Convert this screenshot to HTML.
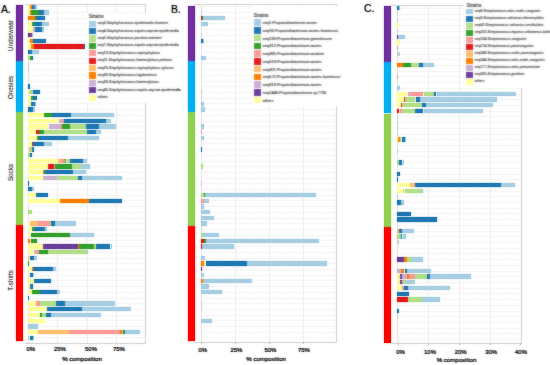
<!DOCTYPE html>
<html><head><meta charset="utf-8"><style>
html,body{margin:0;padding:0;background:#fff;}
body{width:550px;height:365px;position:relative;overflow:hidden;font-family:"Liberation Sans", sans-serif;}
div{position:absolute;}
.t{position:absolute;white-space:nowrap;line-height:1;color:#404040;}
.ax{font-size:5.9px;text-align:center;color:#222;-webkit-text-stroke:0.22px #333;}
.tt{font-size:6.1px;}
.lab{color:#262626;}
.cat{width:80px;text-align:center;font-size:6.3px;transform:rotate(-90deg);color:#3a3a3a;height:9px;line-height:9px;}
.ltitle{font-size:4.8px;color:#222;-webkit-text-stroke:0.12px #333;}
.li{font-style:italic;color:#222;line-height:5px;-webkit-text-stroke:0.1px #333;}
.liA{font-size:3.82px;} .liB{font-size:4.07px;} .liC{font-size:3.63px;-webkit-text-stroke:0.1px #333;color:#2a2a2a;}
#wrap,#wrap2{position:absolute;left:0;top:0;width:550px;height:365px;}
#wrap2{filter:blur(0.8px);opacity:0.5;}
</style></head><body><div id="wrap">
<div style="left:27.90px;top:6.35px;width:117.30px;height:0.60px;background:#f6f6f6;"></div>
<div style="left:27.90px;top:12.06px;width:117.30px;height:0.60px;background:#f6f6f6;"></div>
<div style="left:27.90px;top:17.77px;width:117.30px;height:0.60px;background:#f6f6f6;"></div>
<div style="left:27.90px;top:23.48px;width:117.30px;height:0.60px;background:#f6f6f6;"></div>
<div style="left:27.90px;top:29.19px;width:117.30px;height:0.60px;background:#f6f6f6;"></div>
<div style="left:27.90px;top:34.90px;width:117.30px;height:0.60px;background:#f6f6f6;"></div>
<div style="left:27.90px;top:40.61px;width:117.30px;height:0.60px;background:#f6f6f6;"></div>
<div style="left:27.90px;top:46.32px;width:117.30px;height:0.60px;background:#f6f6f6;"></div>
<div style="left:27.90px;top:52.03px;width:117.30px;height:0.60px;background:#f6f6f6;"></div>
<div style="left:27.90px;top:57.74px;width:117.30px;height:0.60px;background:#f6f6f6;"></div>
<div style="left:27.90px;top:63.44px;width:117.30px;height:0.60px;background:#f6f6f6;"></div>
<div style="left:27.90px;top:69.15px;width:117.30px;height:0.60px;background:#f6f6f6;"></div>
<div style="left:27.90px;top:74.86px;width:117.30px;height:0.60px;background:#f6f6f6;"></div>
<div style="left:27.90px;top:80.57px;width:117.30px;height:0.60px;background:#f6f6f6;"></div>
<div style="left:27.90px;top:86.28px;width:117.30px;height:0.60px;background:#f6f6f6;"></div>
<div style="left:27.90px;top:91.99px;width:117.30px;height:0.60px;background:#f6f6f6;"></div>
<div style="left:27.90px;top:97.70px;width:117.30px;height:0.60px;background:#f6f6f6;"></div>
<div style="left:27.90px;top:103.41px;width:117.30px;height:0.60px;background:#f6f6f6;"></div>
<div style="left:27.90px;top:109.12px;width:117.30px;height:0.60px;background:#f6f6f6;"></div>
<div style="left:27.90px;top:114.83px;width:117.30px;height:0.60px;background:#f6f6f6;"></div>
<div style="left:27.90px;top:120.53px;width:117.30px;height:0.60px;background:#f6f6f6;"></div>
<div style="left:27.90px;top:126.24px;width:117.30px;height:0.60px;background:#f6f6f6;"></div>
<div style="left:27.90px;top:131.95px;width:117.30px;height:0.60px;background:#f6f6f6;"></div>
<div style="left:27.90px;top:137.66px;width:117.30px;height:0.60px;background:#f6f6f6;"></div>
<div style="left:27.90px;top:143.37px;width:117.30px;height:0.60px;background:#f6f6f6;"></div>
<div style="left:27.90px;top:149.08px;width:117.30px;height:0.60px;background:#f6f6f6;"></div>
<div style="left:27.90px;top:154.79px;width:117.30px;height:0.60px;background:#f6f6f6;"></div>
<div style="left:27.90px;top:160.50px;width:117.30px;height:0.60px;background:#f6f6f6;"></div>
<div style="left:27.90px;top:166.21px;width:117.30px;height:0.60px;background:#f6f6f6;"></div>
<div style="left:27.90px;top:171.92px;width:117.30px;height:0.60px;background:#f6f6f6;"></div>
<div style="left:27.90px;top:177.62px;width:117.30px;height:0.60px;background:#f6f6f6;"></div>
<div style="left:27.90px;top:183.33px;width:117.30px;height:0.60px;background:#f6f6f6;"></div>
<div style="left:27.90px;top:189.04px;width:117.30px;height:0.60px;background:#f6f6f6;"></div>
<div style="left:27.90px;top:194.75px;width:117.30px;height:0.60px;background:#f6f6f6;"></div>
<div style="left:27.90px;top:200.46px;width:117.30px;height:0.60px;background:#f6f6f6;"></div>
<div style="left:27.90px;top:206.17px;width:117.30px;height:0.60px;background:#f6f6f6;"></div>
<div style="left:27.90px;top:211.88px;width:117.30px;height:0.60px;background:#f6f6f6;"></div>
<div style="left:27.90px;top:217.59px;width:117.30px;height:0.60px;background:#f6f6f6;"></div>
<div style="left:27.90px;top:223.30px;width:117.30px;height:0.60px;background:#f6f6f6;"></div>
<div style="left:27.90px;top:229.01px;width:117.30px;height:0.60px;background:#f6f6f6;"></div>
<div style="left:27.90px;top:234.71px;width:117.30px;height:0.60px;background:#f6f6f6;"></div>
<div style="left:27.90px;top:240.42px;width:117.30px;height:0.60px;background:#f6f6f6;"></div>
<div style="left:27.90px;top:246.13px;width:117.30px;height:0.60px;background:#f6f6f6;"></div>
<div style="left:27.90px;top:251.84px;width:117.30px;height:0.60px;background:#f6f6f6;"></div>
<div style="left:27.90px;top:257.55px;width:117.30px;height:0.60px;background:#f6f6f6;"></div>
<div style="left:27.90px;top:263.26px;width:117.30px;height:0.60px;background:#f6f6f6;"></div>
<div style="left:27.90px;top:268.97px;width:117.30px;height:0.60px;background:#f6f6f6;"></div>
<div style="left:27.90px;top:274.68px;width:117.30px;height:0.60px;background:#f6f6f6;"></div>
<div style="left:27.90px;top:280.39px;width:117.30px;height:0.60px;background:#f6f6f6;"></div>
<div style="left:27.90px;top:286.10px;width:117.30px;height:0.60px;background:#f6f6f6;"></div>
<div style="left:27.90px;top:291.80px;width:117.30px;height:0.60px;background:#f6f6f6;"></div>
<div style="left:27.90px;top:297.51px;width:117.30px;height:0.60px;background:#f6f6f6;"></div>
<div style="left:27.90px;top:303.22px;width:117.30px;height:0.60px;background:#f6f6f6;"></div>
<div style="left:27.90px;top:308.93px;width:117.30px;height:0.60px;background:#f6f6f6;"></div>
<div style="left:27.90px;top:314.64px;width:117.30px;height:0.60px;background:#f6f6f6;"></div>
<div style="left:27.90px;top:320.35px;width:117.30px;height:0.60px;background:#f6f6f6;"></div>
<div style="left:27.90px;top:326.06px;width:117.30px;height:0.60px;background:#f6f6f6;"></div>
<div style="left:27.90px;top:331.77px;width:117.30px;height:0.60px;background:#f6f6f6;"></div>
<div style="left:27.90px;top:337.48px;width:117.30px;height:0.60px;background:#f6f6f6;"></div>
<div style="left:42.60px;top:3.50px;width:0.60px;height:339.30px;background:#fbfbfb;"></div>
<div style="left:57.30px;top:3.50px;width:0.60px;height:339.30px;background:#f0f0f0;"></div>
<div style="left:72.00px;top:3.50px;width:0.60px;height:339.30px;background:#fbfbfb;"></div>
<div style="left:86.70px;top:3.50px;width:0.60px;height:339.30px;background:#f0f0f0;"></div>
<div style="left:101.40px;top:3.50px;width:0.60px;height:339.30px;background:#fbfbfb;"></div>
<div style="left:116.10px;top:3.50px;width:0.60px;height:339.30px;background:#f0f0f0;"></div>
<div style="left:130.80px;top:3.50px;width:0.60px;height:339.30px;background:#fbfbfb;"></div>
<div style="left:24.50px;top:3.50px;width:120.70px;height:0.80px;background:#d9d9d9;"></div>
<div style="left:145.20px;top:3.50px;width:0.80px;height:339.30px;background:#d9d9d9;"></div>
<div style="left:24.50px;top:342.80px;width:121.50px;height:0.80px;background:#d9d9d9;"></div>
<div style="left:27.80px;top:3.50px;width:0.60px;height:339.30px;background:#e8e8e8;"></div>
<div style="left:27.90px;top:342.80px;width:0.70px;height:1.60px;background:#bfbfbf;"></div>
<div style="left:57.30px;top:342.80px;width:0.70px;height:1.60px;background:#bfbfbf;"></div>
<div style="left:86.70px;top:342.80px;width:0.70px;height:1.60px;background:#bfbfbf;"></div>
<div style="left:116.10px;top:342.80px;width:0.70px;height:1.60px;background:#bfbfbf;"></div>
<div style="left:16.00px;top:4.50px;width:7.00px;height:56.10px;background:#7030a0;"></div>
<div style="left:16.00px;top:60.60px;width:7.00px;height:51.20px;background:#00b0f0;"></div>
<div style="left:16.00px;top:111.80px;width:7.00px;height:113.60px;background:#92d050;"></div>
<div style="left:16.00px;top:225.40px;width:7.00px;height:115.20px;background:#ff0000;"></div>
<div style="left:28.40px;top:4.50px;width:1.80px;height:4.30px;background:#ffff99;"></div>
<div style="left:30.20px;top:4.50px;width:1.60px;height:4.30px;background:#ff7f00;"></div>
<div style="left:31.80px;top:4.50px;width:2.90px;height:4.30px;background:#1f78b4;"></div>
<div style="left:34.70px;top:4.50px;width:2.40px;height:4.30px;background:#a6cee3;"></div>
<div style="left:28.40px;top:10.21px;width:1.30px;height:4.30px;background:#ffff99;"></div>
<div style="left:29.70px;top:10.21px;width:1.30px;height:4.30px;background:#ff7f00;"></div>
<div style="left:31.00px;top:10.21px;width:7.80px;height:4.30px;background:#33a02c;"></div>
<div style="left:38.80px;top:10.21px;width:5.30px;height:4.30px;background:#1f78b4;"></div>
<div style="left:44.10px;top:10.21px;width:4.50px;height:4.30px;background:#a6cee3;"></div>
<div style="left:28.40px;top:15.92px;width:6.30px;height:4.30px;background:#ff7f00;"></div>
<div style="left:34.70px;top:15.92px;width:1.60px;height:4.30px;background:#33a02c;"></div>
<div style="left:36.30px;top:15.92px;width:9.10px;height:4.30px;background:#1f78b4;"></div>
<div style="left:28.40px;top:21.63px;width:3.80px;height:4.30px;background:#ffff99;"></div>
<div style="left:32.20px;top:21.63px;width:1.70px;height:4.30px;background:#33a02c;"></div>
<div style="left:33.90px;top:21.63px;width:7.80px;height:4.30px;background:#1f78b4;"></div>
<div style="left:41.70px;top:21.63px;width:7.30px;height:4.30px;background:#a6cee3;"></div>
<div style="left:28.40px;top:27.34px;width:5.00px;height:4.30px;background:#ffff99;"></div>
<div style="left:33.40px;top:27.34px;width:1.60px;height:4.30px;background:#cab2d6;"></div>
<div style="left:35.00px;top:27.34px;width:6.70px;height:4.30px;background:#1f78b4;"></div>
<div style="left:41.70px;top:27.34px;width:2.80px;height:4.30px;background:#a6cee3;"></div>
<div style="left:28.40px;top:33.05px;width:1.60px;height:4.30px;background:#6a3d9a;"></div>
<div style="left:30.00px;top:33.05px;width:0.60px;height:4.30px;background:#e31a1c;"></div>
<div style="left:30.60px;top:33.05px;width:1.40px;height:4.30px;background:#1f78b4;"></div>
<div style="left:32.00px;top:33.05px;width:1.40px;height:4.30px;background:#a6cee3;"></div>
<div style="left:28.40px;top:38.76px;width:1.80px;height:4.30px;background:#ffff99;"></div>
<div style="left:30.20px;top:38.76px;width:3.20px;height:4.30px;background:#ff7f00;"></div>
<div style="left:33.40px;top:38.76px;width:12.40px;height:4.30px;background:#1f78b4;"></div>
<div style="left:28.40px;top:44.47px;width:2.60px;height:4.30px;background:#ffff99;"></div>
<div style="left:31.00px;top:44.47px;width:3.30px;height:4.30px;background:#ff7f00;"></div>
<div style="left:34.30px;top:44.47px;width:49.90px;height:4.30px;background:#e31a1c;"></div>
<div style="left:84.20px;top:44.47px;width:0.60px;height:4.30px;background:#1f78b4;"></div>
<div style="left:28.40px;top:50.18px;width:3.80px;height:4.30px;background:#1f78b4;"></div>
<div style="left:32.20px;top:50.18px;width:7.00px;height:4.30px;background:#a6cee3;"></div>
<div style="left:28.40px;top:55.89px;width:2.00px;height:4.30px;background:#b2df8a;"></div>
<div style="left:30.40px;top:55.89px;width:1.20px;height:4.30px;background:#33a02c;"></div>
<div style="left:31.60px;top:55.89px;width:1.00px;height:4.30px;background:#1f78b4;"></div>
<div style="left:28.40px;top:61.59px;width:0.60px;height:4.30px;background:#c8d2d6;"></div>
<div style="left:28.40px;top:67.30px;width:0.60px;height:4.30px;background:#c8d2d6;"></div>
<div style="left:28.40px;top:84.43px;width:1.20px;height:4.30px;background:#1f78b4;"></div>
<div style="left:28.40px;top:90.14px;width:0.90px;height:4.30px;background:#ffff99;"></div>
<div style="left:29.30px;top:90.14px;width:3.30px;height:4.30px;background:#b2df8a;"></div>
<div style="left:32.60px;top:90.14px;width:7.00px;height:4.30px;background:#1f78b4;"></div>
<div style="left:28.40px;top:95.85px;width:2.60px;height:4.30px;background:#ffff99;"></div>
<div style="left:31.00px;top:95.85px;width:1.60px;height:4.30px;background:#33a02c;"></div>
<div style="left:32.60px;top:95.85px;width:4.50px;height:4.30px;background:#1f78b4;"></div>
<div style="left:28.40px;top:101.56px;width:3.00px;height:4.30px;background:#ffff99;"></div>
<div style="left:31.40px;top:101.56px;width:3.80px;height:4.30px;background:#1f78b4;"></div>
<div style="left:35.20px;top:101.56px;width:1.30px;height:4.30px;background:#a6cee3;"></div>
<div style="left:28.40px;top:107.27px;width:4.30px;height:4.30px;background:#1f78b4;"></div>
<div style="left:32.70px;top:107.27px;width:2.20px;height:4.30px;background:#a6cee3;"></div>
<div style="left:28.40px;top:112.98px;width:15.80px;height:4.30px;background:#ffff99;"></div>
<div style="left:44.20px;top:112.98px;width:8.20px;height:4.30px;background:#33a02c;"></div>
<div style="left:52.40px;top:112.98px;width:18.50px;height:4.30px;background:#1f78b4;"></div>
<div style="left:70.90px;top:112.98px;width:43.50px;height:4.30px;background:#a6cee3;"></div>
<div style="left:28.40px;top:118.68px;width:30.50px;height:4.30px;background:#ffff99;"></div>
<div style="left:58.90px;top:118.68px;width:2.70px;height:4.30px;background:#cab2d6;"></div>
<div style="left:61.60px;top:118.68px;width:2.80px;height:4.30px;background:#fb9a99;"></div>
<div style="left:64.40px;top:118.68px;width:41.80px;height:4.30px;background:#1f78b4;"></div>
<div style="left:106.20px;top:118.68px;width:4.90px;height:4.30px;background:#a6cee3;"></div>
<div style="left:28.40px;top:124.39px;width:20.10px;height:4.30px;background:#ffff99;"></div>
<div style="left:48.50px;top:124.39px;width:11.00px;height:4.30px;background:#cab2d6;"></div>
<div style="left:59.50px;top:124.39px;width:2.70px;height:4.30px;background:#fb9a99;"></div>
<div style="left:62.20px;top:124.39px;width:8.20px;height:4.30px;background:#33a02c;"></div>
<div style="left:70.40px;top:124.39px;width:15.60px;height:4.30px;background:#b2df8a;"></div>
<div style="left:86.00px;top:124.39px;width:13.10px;height:4.30px;background:#1f78b4;"></div>
<div style="left:99.10px;top:124.39px;width:16.90px;height:4.30px;background:#a6cee3;"></div>
<div style="left:28.40px;top:130.10px;width:7.60px;height:4.30px;background:#ffff99;"></div>
<div style="left:36.00px;top:130.10px;width:2.70px;height:4.30px;background:#e31a1c;"></div>
<div style="left:38.70px;top:130.10px;width:5.50px;height:4.30px;background:#33a02c;"></div>
<div style="left:44.20px;top:130.10px;width:42.90px;height:4.30px;background:#b2df8a;"></div>
<div style="left:87.10px;top:130.10px;width:9.30px;height:4.30px;background:#1f78b4;"></div>
<div style="left:96.40px;top:130.10px;width:4.90px;height:4.30px;background:#a6cee3;"></div>
<div style="left:28.40px;top:135.81px;width:8.70px;height:4.30px;background:#ffff99;"></div>
<div style="left:37.10px;top:135.81px;width:1.60px;height:4.30px;background:#33a02c;"></div>
<div style="left:38.70px;top:135.81px;width:29.50px;height:4.30px;background:#1f78b4;"></div>
<div style="left:68.20px;top:135.81px;width:30.90px;height:4.30px;background:#a6cee3;"></div>
<div style="left:28.40px;top:141.52px;width:3.80px;height:4.30px;background:#ffff99;"></div>
<div style="left:32.20px;top:141.52px;width:0.50px;height:4.30px;background:#e31a1c;"></div>
<div style="left:32.70px;top:141.52px;width:11.50px;height:4.30px;background:#1f78b4;"></div>
<div style="left:44.20px;top:141.52px;width:8.20px;height:4.30px;background:#a6cee3;"></div>
<div style="left:28.40px;top:147.23px;width:0.50px;height:4.30px;background:#ffff99;"></div>
<div style="left:28.90px;top:147.23px;width:1.10px;height:4.30px;background:#fb9a99;"></div>
<div style="left:30.00px;top:147.23px;width:1.60px;height:4.30px;background:#b2df8a;"></div>
<div style="left:31.60px;top:147.23px;width:2.20px;height:4.30px;background:#1f78b4;"></div>
<div style="left:28.40px;top:152.94px;width:1.60px;height:4.30px;background:#b2df8a;"></div>
<div style="left:30.00px;top:152.94px;width:2.20px;height:4.30px;background:#1f78b4;"></div>
<div style="left:28.40px;top:158.65px;width:30.00px;height:4.30px;background:#ffff99;"></div>
<div style="left:58.40px;top:158.65px;width:2.70px;height:4.30px;background:#fdbf6f;"></div>
<div style="left:61.10px;top:158.65px;width:3.80px;height:4.30px;background:#fb9a99;"></div>
<div style="left:64.90px;top:158.65px;width:1.60px;height:4.30px;background:#33a02c;"></div>
<div style="left:66.50px;top:158.65px;width:3.30px;height:4.30px;background:#b2df8a;"></div>
<div style="left:69.80px;top:158.65px;width:13.50px;height:4.30px;background:#1f78b4;"></div>
<div style="left:83.30px;top:158.65px;width:3.80px;height:4.30px;background:#a6cee3;"></div>
<div style="left:28.40px;top:164.36px;width:19.60px;height:4.30px;background:#ffff99;"></div>
<div style="left:48.00px;top:164.36px;width:5.50px;height:4.30px;background:#e31a1c;"></div>
<div style="left:53.50px;top:164.36px;width:1.60px;height:4.30px;background:#fb9a99;"></div>
<div style="left:55.10px;top:164.36px;width:16.90px;height:4.30px;background:#33a02c;"></div>
<div style="left:72.00px;top:164.36px;width:9.10px;height:4.30px;background:#b2df8a;"></div>
<div style="left:81.10px;top:164.36px;width:8.70px;height:4.30px;background:#a6cee3;"></div>
<div style="left:28.40px;top:170.07px;width:14.10px;height:4.30px;background:#ffff99;"></div>
<div style="left:42.50px;top:170.07px;width:1.70px;height:4.30px;background:#ff7f00;"></div>
<div style="left:44.20px;top:170.07px;width:1.10px;height:4.30px;background:#33a02c;"></div>
<div style="left:45.30px;top:170.07px;width:27.80px;height:4.30px;background:#1f78b4;"></div>
<div style="left:73.10px;top:170.07px;width:13.40px;height:4.30px;background:#a6cee3;"></div>
<div style="left:28.40px;top:175.77px;width:14.70px;height:4.30px;background:#ffff99;"></div>
<div style="left:43.10px;top:175.77px;width:13.60px;height:4.30px;background:#cab2d6;"></div>
<div style="left:56.70px;top:175.77px;width:21.30px;height:4.30px;background:#b2df8a;"></div>
<div style="left:78.00px;top:175.77px;width:3.60px;height:4.30px;background:#1f78b4;"></div>
<div style="left:81.60px;top:175.77px;width:40.90px;height:4.30px;background:#a6cee3;"></div>
<div style="left:28.40px;top:181.48px;width:0.60px;height:4.30px;background:#1f78b4;"></div>
<div style="left:28.40px;top:187.19px;width:3.80px;height:4.30px;background:#1f78b4;"></div>
<div style="left:32.20px;top:187.19px;width:2.20px;height:4.30px;background:#a6cee3;"></div>
<div style="left:28.40px;top:192.90px;width:7.60px;height:4.30px;background:#ffff99;"></div>
<div style="left:36.00px;top:192.90px;width:12.00px;height:4.30px;background:#1f78b4;"></div>
<div style="left:28.40px;top:198.61px;width:31.60px;height:4.30px;background:#ffff99;"></div>
<div style="left:60.00px;top:198.61px;width:28.70px;height:4.30px;background:#ff7f00;"></div>
<div style="left:88.70px;top:198.61px;width:33.30px;height:4.30px;background:#1f78b4;"></div>
<div style="left:28.40px;top:210.03px;width:3.20px;height:4.30px;background:#b2df8a;"></div>
<div style="left:28.40px;top:221.45px;width:1.10px;height:4.30px;background:#ffff99;"></div>
<div style="left:29.50px;top:221.45px;width:8.70px;height:4.30px;background:#fdbf6f;"></div>
<div style="left:38.20px;top:221.45px;width:11.40px;height:4.30px;background:#fb9a99;"></div>
<div style="left:49.60px;top:221.45px;width:1.10px;height:4.30px;background:#b2df8a;"></div>
<div style="left:50.70px;top:221.45px;width:4.40px;height:4.30px;background:#1f78b4;"></div>
<div style="left:55.10px;top:221.45px;width:21.30px;height:4.30px;background:#a6cee3;"></div>
<div style="left:28.40px;top:227.16px;width:3.80px;height:4.30px;background:#ffff99;"></div>
<div style="left:32.20px;top:227.16px;width:1.60px;height:4.30px;background:#33a02c;"></div>
<div style="left:33.80px;top:227.16px;width:10.90px;height:4.30px;background:#1f78b4;"></div>
<div style="left:44.70px;top:227.16px;width:2.20px;height:4.30px;background:#a6cee3;"></div>
<div style="left:28.40px;top:232.86px;width:2.10px;height:4.30px;background:#ffff99;"></div>
<div style="left:30.50px;top:232.86px;width:39.90px;height:4.30px;background:#33a02c;"></div>
<div style="left:70.40px;top:232.86px;width:23.80px;height:4.30px;background:#a6cee3;"></div>
<div style="left:28.40px;top:238.57px;width:2.10px;height:4.30px;background:#ff7f00;"></div>
<div style="left:30.50px;top:238.57px;width:6.00px;height:4.30px;background:#33a02c;"></div>
<div style="left:28.40px;top:244.28px;width:14.70px;height:4.30px;background:#ffff99;"></div>
<div style="left:43.10px;top:244.28px;width:34.90px;height:4.30px;background:#6a3d9a;"></div>
<div style="left:78.00px;top:244.28px;width:1.10px;height:4.30px;background:#ff7f00;"></div>
<div style="left:79.10px;top:244.28px;width:15.10px;height:4.30px;background:#33a02c;"></div>
<div style="left:94.20px;top:244.28px;width:1.60px;height:4.30px;background:#b2df8a;"></div>
<div style="left:95.80px;top:244.28px;width:14.70px;height:4.30px;background:#1f78b4;"></div>
<div style="left:110.50px;top:244.28px;width:0.60px;height:4.30px;background:#a6cee3;"></div>
<div style="left:28.40px;top:249.99px;width:6.00px;height:4.30px;background:#ffff99;"></div>
<div style="left:34.40px;top:249.99px;width:1.60px;height:4.30px;background:#cab2d6;"></div>
<div style="left:36.00px;top:249.99px;width:2.70px;height:4.30px;background:#fb9a99;"></div>
<div style="left:38.70px;top:249.99px;width:9.30px;height:4.30px;background:#33a02c;"></div>
<div style="left:48.00px;top:249.99px;width:38.50px;height:4.30px;background:#b2df8a;"></div>
<div style="left:86.50px;top:249.99px;width:1.70px;height:4.30px;background:#a6cee3;"></div>
<div style="left:28.40px;top:255.70px;width:1.10px;height:4.30px;background:#fdbf6f;"></div>
<div style="left:29.50px;top:255.70px;width:4.90px;height:4.30px;background:#1f78b4;"></div>
<div style="left:34.40px;top:255.70px;width:2.70px;height:4.30px;background:#a6cee3;"></div>
<div style="left:28.40px;top:261.41px;width:0.60px;height:4.30px;background:#33a02c;"></div>
<div style="left:28.40px;top:267.12px;width:3.20px;height:4.30px;background:#ffff99;"></div>
<div style="left:31.60px;top:267.12px;width:1.10px;height:4.30px;background:#ff7f00;"></div>
<div style="left:32.70px;top:267.12px;width:20.20px;height:4.30px;background:#1f78b4;"></div>
<div style="left:52.90px;top:267.12px;width:2.70px;height:4.30px;background:#a6cee3;"></div>
<div style="left:28.40px;top:272.83px;width:1.10px;height:4.30px;background:#ffff99;"></div>
<div style="left:29.50px;top:272.83px;width:3.20px;height:4.30px;background:#1f78b4;"></div>
<div style="left:32.70px;top:272.83px;width:1.10px;height:4.30px;background:#a6cee3;"></div>
<div style="left:28.40px;top:278.54px;width:6.00px;height:4.30px;background:#ffff99;"></div>
<div style="left:34.40px;top:278.54px;width:16.30px;height:4.30px;background:#1f78b4;"></div>
<div style="left:28.40px;top:284.25px;width:1.60px;height:4.30px;background:#ffff99;"></div>
<div style="left:30.00px;top:284.25px;width:2.70px;height:4.30px;background:#1f78b4;"></div>
<div style="left:28.40px;top:289.95px;width:3.80px;height:4.30px;background:#ffff99;"></div>
<div style="left:32.20px;top:289.95px;width:7.60px;height:4.30px;background:#33a02c;"></div>
<div style="left:39.80px;top:289.95px;width:17.50px;height:4.30px;background:#1f78b4;"></div>
<div style="left:57.30px;top:289.95px;width:2.70px;height:4.30px;background:#a6cee3;"></div>
<div style="left:28.40px;top:295.66px;width:0.60px;height:4.30px;background:#1f78b4;"></div>
<div style="left:28.40px;top:301.37px;width:7.60px;height:4.30px;background:#ffff99;"></div>
<div style="left:36.00px;top:301.37px;width:3.80px;height:4.30px;background:#fb9a99;"></div>
<div style="left:39.80px;top:301.37px;width:15.80px;height:4.30px;background:#b2df8a;"></div>
<div style="left:55.60px;top:301.37px;width:9.30px;height:4.30px;background:#1f78b4;"></div>
<div style="left:64.90px;top:301.37px;width:50.00px;height:4.30px;background:#a6cee3;"></div>
<div style="left:28.40px;top:307.08px;width:18.50px;height:4.30px;background:#ffff99;"></div>
<div style="left:46.90px;top:307.08px;width:35.30px;height:4.30px;background:#1f78b4;"></div>
<div style="left:82.20px;top:307.08px;width:48.50px;height:4.30px;background:#a6cee3;"></div>
<div style="left:28.40px;top:312.79px;width:11.40px;height:4.30px;background:#ffff99;"></div>
<div style="left:39.80px;top:312.79px;width:2.20px;height:4.30px;background:#33a02c;"></div>
<div style="left:42.00px;top:312.79px;width:3.80px;height:4.30px;background:#b2df8a;"></div>
<div style="left:45.80px;top:312.79px;width:4.90px;height:4.30px;background:#1f78b4;"></div>
<div style="left:50.70px;top:312.79px;width:50.00px;height:4.30px;background:#a6cee3;"></div>
<div style="left:28.40px;top:318.50px;width:16.90px;height:4.30px;background:#ffff99;"></div>
<div style="left:28.40px;top:324.21px;width:9.80px;height:4.30px;background:#a6cee3;"></div>
<div style="left:28.40px;top:329.92px;width:9.80px;height:4.30px;background:#ffff99;"></div>
<div style="left:38.20px;top:329.92px;width:31.10px;height:4.30px;background:#fdbf6f;"></div>
<div style="left:69.30px;top:329.92px;width:50.70px;height:4.30px;background:#fb9a99;"></div>
<div style="left:120.00px;top:329.92px;width:1.80px;height:4.30px;background:#ff7f00;"></div>
<div style="left:121.80px;top:329.92px;width:1.40px;height:4.30px;background:#b2df8a;"></div>
<div style="left:123.20px;top:329.92px;width:0.60px;height:4.30px;background:#33a02c;"></div>
<div style="left:123.80px;top:329.92px;width:1.20px;height:4.30px;background:#1f78b4;"></div>
<div style="left:125.00px;top:329.92px;width:14.50px;height:4.30px;background:#a6cee3;"></div>
<div style="left:28.40px;top:335.63px;width:1.10px;height:4.30px;background:#b2df8a;"></div>
<div style="left:29.50px;top:335.63px;width:3.20px;height:4.30px;background:#1f78b4;"></div>
<div style="left:32.70px;top:335.63px;width:0.60px;height:4.30px;background:#a6cee3;"></div>
<span class="t ax" style="left:20.80px;top:347.23px;width:20px;">0%</span>
<span class="t ax" style="left:49.80px;top:347.23px;width:20px;">25%</span>
<span class="t ax" style="left:81.00px;top:347.23px;width:20px;">50%</span>
<span class="t ax" style="left:108.80px;top:347.23px;width:20px;">75%</span>
<span class="t ax tt" style="left:52.00px;top:356.25px;width:60px;">% composition</span>
<span class="t lab" style="left:1.00px;top:4.60px;font-size:10.3px;-webkit-text-stroke:0.15px #222;">A.</span>
<div style="left:200.60px;top:6.35px;width:135.70px;height:0.60px;background:#f6f6f6;"></div>
<div style="left:200.60px;top:12.06px;width:135.70px;height:0.60px;background:#f6f6f6;"></div>
<div style="left:200.60px;top:17.77px;width:135.70px;height:0.60px;background:#f6f6f6;"></div>
<div style="left:200.60px;top:23.48px;width:135.70px;height:0.60px;background:#f6f6f6;"></div>
<div style="left:200.60px;top:29.19px;width:135.70px;height:0.60px;background:#f6f6f6;"></div>
<div style="left:200.60px;top:34.90px;width:135.70px;height:0.60px;background:#f6f6f6;"></div>
<div style="left:200.60px;top:40.61px;width:135.70px;height:0.60px;background:#f6f6f6;"></div>
<div style="left:200.60px;top:46.32px;width:135.70px;height:0.60px;background:#f6f6f6;"></div>
<div style="left:200.60px;top:52.03px;width:135.70px;height:0.60px;background:#f6f6f6;"></div>
<div style="left:200.60px;top:57.74px;width:135.70px;height:0.60px;background:#f6f6f6;"></div>
<div style="left:200.60px;top:63.44px;width:135.70px;height:0.60px;background:#f6f6f6;"></div>
<div style="left:200.60px;top:69.15px;width:135.70px;height:0.60px;background:#f6f6f6;"></div>
<div style="left:200.60px;top:74.86px;width:135.70px;height:0.60px;background:#f6f6f6;"></div>
<div style="left:200.60px;top:80.57px;width:135.70px;height:0.60px;background:#f6f6f6;"></div>
<div style="left:200.60px;top:86.28px;width:135.70px;height:0.60px;background:#f6f6f6;"></div>
<div style="left:200.60px;top:91.99px;width:135.70px;height:0.60px;background:#f6f6f6;"></div>
<div style="left:200.60px;top:97.70px;width:135.70px;height:0.60px;background:#f6f6f6;"></div>
<div style="left:200.60px;top:103.41px;width:135.70px;height:0.60px;background:#f6f6f6;"></div>
<div style="left:200.60px;top:109.12px;width:135.70px;height:0.60px;background:#f6f6f6;"></div>
<div style="left:200.60px;top:114.83px;width:135.70px;height:0.60px;background:#f6f6f6;"></div>
<div style="left:200.60px;top:120.53px;width:135.70px;height:0.60px;background:#f6f6f6;"></div>
<div style="left:200.60px;top:126.24px;width:135.70px;height:0.60px;background:#f6f6f6;"></div>
<div style="left:200.60px;top:131.95px;width:135.70px;height:0.60px;background:#f6f6f6;"></div>
<div style="left:200.60px;top:137.66px;width:135.70px;height:0.60px;background:#f6f6f6;"></div>
<div style="left:200.60px;top:143.37px;width:135.70px;height:0.60px;background:#f6f6f6;"></div>
<div style="left:200.60px;top:149.08px;width:135.70px;height:0.60px;background:#f6f6f6;"></div>
<div style="left:200.60px;top:154.79px;width:135.70px;height:0.60px;background:#f6f6f6;"></div>
<div style="left:200.60px;top:160.50px;width:135.70px;height:0.60px;background:#f6f6f6;"></div>
<div style="left:200.60px;top:166.21px;width:135.70px;height:0.60px;background:#f6f6f6;"></div>
<div style="left:200.60px;top:171.92px;width:135.70px;height:0.60px;background:#f6f6f6;"></div>
<div style="left:200.60px;top:177.62px;width:135.70px;height:0.60px;background:#f6f6f6;"></div>
<div style="left:200.60px;top:183.33px;width:135.70px;height:0.60px;background:#f6f6f6;"></div>
<div style="left:200.60px;top:189.04px;width:135.70px;height:0.60px;background:#f6f6f6;"></div>
<div style="left:200.60px;top:194.75px;width:135.70px;height:0.60px;background:#f6f6f6;"></div>
<div style="left:200.60px;top:200.46px;width:135.70px;height:0.60px;background:#f6f6f6;"></div>
<div style="left:200.60px;top:206.17px;width:135.70px;height:0.60px;background:#f6f6f6;"></div>
<div style="left:200.60px;top:211.88px;width:135.70px;height:0.60px;background:#f6f6f6;"></div>
<div style="left:200.60px;top:217.59px;width:135.70px;height:0.60px;background:#f6f6f6;"></div>
<div style="left:200.60px;top:223.30px;width:135.70px;height:0.60px;background:#f6f6f6;"></div>
<div style="left:200.60px;top:229.01px;width:135.70px;height:0.60px;background:#f6f6f6;"></div>
<div style="left:200.60px;top:234.71px;width:135.70px;height:0.60px;background:#f6f6f6;"></div>
<div style="left:200.60px;top:240.42px;width:135.70px;height:0.60px;background:#f6f6f6;"></div>
<div style="left:200.60px;top:246.13px;width:135.70px;height:0.60px;background:#f6f6f6;"></div>
<div style="left:200.60px;top:251.84px;width:135.70px;height:0.60px;background:#f6f6f6;"></div>
<div style="left:200.60px;top:257.55px;width:135.70px;height:0.60px;background:#f6f6f6;"></div>
<div style="left:200.60px;top:263.26px;width:135.70px;height:0.60px;background:#f6f6f6;"></div>
<div style="left:200.60px;top:268.97px;width:135.70px;height:0.60px;background:#f6f6f6;"></div>
<div style="left:200.60px;top:274.68px;width:135.70px;height:0.60px;background:#f6f6f6;"></div>
<div style="left:200.60px;top:280.39px;width:135.70px;height:0.60px;background:#f6f6f6;"></div>
<div style="left:200.60px;top:286.10px;width:135.70px;height:0.60px;background:#f6f6f6;"></div>
<div style="left:200.60px;top:291.80px;width:135.70px;height:0.60px;background:#f6f6f6;"></div>
<div style="left:200.60px;top:297.51px;width:135.70px;height:0.60px;background:#f6f6f6;"></div>
<div style="left:200.60px;top:303.22px;width:135.70px;height:0.60px;background:#f6f6f6;"></div>
<div style="left:200.60px;top:308.93px;width:135.70px;height:0.60px;background:#f6f6f6;"></div>
<div style="left:200.60px;top:314.64px;width:135.70px;height:0.60px;background:#f6f6f6;"></div>
<div style="left:200.60px;top:320.35px;width:135.70px;height:0.60px;background:#f6f6f6;"></div>
<div style="left:200.60px;top:326.06px;width:135.70px;height:0.60px;background:#f6f6f6;"></div>
<div style="left:200.60px;top:331.77px;width:135.70px;height:0.60px;background:#f6f6f6;"></div>
<div style="left:200.60px;top:337.48px;width:135.70px;height:0.60px;background:#f6f6f6;"></div>
<div style="left:217.65px;top:3.50px;width:0.60px;height:338.70px;background:#fbfbfb;"></div>
<div style="left:234.70px;top:3.50px;width:0.60px;height:338.70px;background:#f0f0f0;"></div>
<div style="left:251.75px;top:3.50px;width:0.60px;height:338.70px;background:#fbfbfb;"></div>
<div style="left:268.80px;top:3.50px;width:0.60px;height:338.70px;background:#f0f0f0;"></div>
<div style="left:285.85px;top:3.50px;width:0.60px;height:338.70px;background:#fbfbfb;"></div>
<div style="left:302.90px;top:3.50px;width:0.60px;height:338.70px;background:#f0f0f0;"></div>
<div style="left:319.95px;top:3.50px;width:0.60px;height:338.70px;background:#fbfbfb;"></div>
<div style="left:194.20px;top:3.50px;width:142.10px;height:0.80px;background:#d9d9d9;"></div>
<div style="left:336.30px;top:3.50px;width:0.80px;height:338.70px;background:#d9d9d9;"></div>
<div style="left:194.20px;top:342.20px;width:142.90px;height:0.80px;background:#d9d9d9;"></div>
<div style="left:200.50px;top:3.50px;width:0.60px;height:338.70px;background:#e8e8e8;"></div>
<div style="left:200.60px;top:342.20px;width:0.70px;height:1.60px;background:#bfbfbf;"></div>
<div style="left:234.90px;top:342.20px;width:0.70px;height:1.60px;background:#bfbfbf;"></div>
<div style="left:269.00px;top:342.20px;width:0.70px;height:1.60px;background:#bfbfbf;"></div>
<div style="left:303.10px;top:342.20px;width:0.70px;height:1.60px;background:#bfbfbf;"></div>
<div style="left:188.00px;top:5.50px;width:7.00px;height:55.80px;background:#7030a0;"></div>
<div style="left:188.00px;top:61.30px;width:7.00px;height:50.70px;background:#00b0f0;"></div>
<div style="left:188.00px;top:112.00px;width:7.00px;height:114.00px;background:#92d050;"></div>
<div style="left:188.00px;top:226.00px;width:7.00px;height:115.30px;background:#ff0000;"></div>
<div style="left:201.10px;top:10.21px;width:0.50px;height:4.30px;background:#c8d2d6;"></div>
<div style="left:201.10px;top:15.92px;width:0.90px;height:4.30px;background:#e31a1c;"></div>
<div style="left:202.00px;top:15.92px;width:0.60px;height:4.30px;background:#33a02c;"></div>
<div style="left:202.60px;top:15.92px;width:22.40px;height:4.30px;background:#a6cee3;"></div>
<div style="left:201.10px;top:21.63px;width:7.10px;height:4.30px;background:#a6cee3;"></div>
<div style="left:201.10px;top:33.05px;width:0.50px;height:4.30px;background:#c8d2d6;"></div>
<div style="left:201.10px;top:38.76px;width:2.20px;height:4.30px;background:#1f78b4;"></div>
<div style="left:203.30px;top:38.76px;width:0.50px;height:4.30px;background:#a6cee3;"></div>
<div style="left:201.10px;top:55.89px;width:5.40px;height:4.30px;background:#a6cee3;"></div>
<div style="left:201.10px;top:90.14px;width:0.50px;height:4.30px;background:#c8d2d6;"></div>
<div style="left:201.10px;top:95.85px;width:0.50px;height:4.30px;background:#c8d2d6;"></div>
<div style="left:201.10px;top:101.56px;width:2.70px;height:4.30px;background:#a6cee3;"></div>
<div style="left:201.10px;top:107.27px;width:4.40px;height:4.30px;background:#a6cee3;"></div>
<div style="left:201.10px;top:124.39px;width:2.70px;height:4.30px;background:#a6cee3;"></div>
<div style="left:201.10px;top:130.10px;width:0.50px;height:4.30px;background:#fb9a99;"></div>
<div style="left:201.10px;top:135.81px;width:3.30px;height:4.30px;background:#a6cee3;"></div>
<div style="left:201.10px;top:147.23px;width:1.10px;height:4.30px;background:#1f78b4;"></div>
<div style="left:201.10px;top:164.36px;width:1.60px;height:4.30px;background:#b2df8a;"></div>
<div style="left:201.10px;top:181.48px;width:0.50px;height:4.30px;background:#c8d2d6;"></div>
<div style="left:201.10px;top:192.90px;width:2.70px;height:4.30px;background:#b2df8a;"></div>
<div style="left:203.80px;top:192.90px;width:1.10px;height:4.30px;background:#33a02c;"></div>
<div style="left:204.90px;top:192.90px;width:111.10px;height:4.30px;background:#a6cee3;"></div>
<div style="left:201.10px;top:198.61px;width:3.30px;height:4.30px;background:#fb9a99;"></div>
<div style="left:204.40px;top:198.61px;width:4.30px;height:4.30px;background:#a6cee3;"></div>
<div style="left:201.10px;top:204.32px;width:2.70px;height:4.30px;background:#a6cee3;"></div>
<div style="left:201.10px;top:210.03px;width:9.30px;height:4.30px;background:#a6cee3;"></div>
<div style="left:201.10px;top:215.74px;width:12.50px;height:4.30px;background:#a6cee3;"></div>
<div style="left:201.10px;top:221.45px;width:6.40px;height:4.30px;background:#a6cee3;"></div>
<div style="left:201.10px;top:227.16px;width:0.50px;height:4.30px;background:#c8d2d6;"></div>
<div style="left:201.10px;top:232.86px;width:2.00px;height:4.30px;background:#b2df8a;"></div>
<div style="left:203.10px;top:232.86px;width:15.80px;height:4.30px;background:#a6cee3;"></div>
<div style="left:201.10px;top:238.57px;width:3.10px;height:4.30px;background:#e31a1c;"></div>
<div style="left:204.20px;top:238.57px;width:1.60px;height:4.30px;background:#33a02c;"></div>
<div style="left:205.80px;top:238.57px;width:113.30px;height:4.30px;background:#a6cee3;"></div>
<div style="left:201.10px;top:244.28px;width:1.10px;height:4.30px;background:#e31a1c;"></div>
<div style="left:202.20px;top:244.28px;width:31.60px;height:4.30px;background:#a6cee3;"></div>
<div style="left:201.10px;top:255.70px;width:3.80px;height:4.30px;background:#a6cee3;"></div>
<div style="left:201.10px;top:261.41px;width:2.70px;height:4.30px;background:#ff7f00;"></div>
<div style="left:203.80px;top:261.41px;width:1.70px;height:4.30px;background:#ffff99;"></div>
<div style="left:205.50px;top:261.41px;width:41.40px;height:4.30px;background:#1f78b4;"></div>
<div style="left:246.90px;top:261.41px;width:80.40px;height:4.30px;background:#a6cee3;"></div>
<div style="left:201.10px;top:267.12px;width:1.10px;height:4.30px;background:#6a3d9a;"></div>
<div style="left:201.10px;top:272.83px;width:2.70px;height:4.30px;background:#a6cee3;"></div>
<div style="left:201.10px;top:278.54px;width:1.60px;height:4.30px;background:#ff7f00;"></div>
<div style="left:202.70px;top:278.54px;width:49.70px;height:4.30px;background:#a6cee3;"></div>
<div style="left:201.10px;top:284.25px;width:8.20px;height:4.30px;background:#a6cee3;"></div>
<div style="left:201.10px;top:289.95px;width:21.30px;height:4.30px;background:#a6cee3;"></div>
<div style="left:201.10px;top:301.37px;width:0.50px;height:4.30px;background:#c8d2d6;"></div>
<div style="left:201.10px;top:307.08px;width:0.50px;height:4.30px;background:#c8d2d6;"></div>
<div style="left:201.10px;top:318.50px;width:10.90px;height:4.30px;background:#a6cee3;"></div>
<span class="t ax" style="left:192.70px;top:347.63px;width:20px;">0%</span>
<span class="t ax" style="left:226.30px;top:347.63px;width:20px;">25%</span>
<span class="t ax" style="left:260.40px;top:347.63px;width:20px;">50%</span>
<span class="t ax" style="left:293.80px;top:347.63px;width:20px;">75%</span>
<span class="t ax tt" style="left:236.20px;top:356.36px;width:60px;">% composition</span>
<span class="t lab" style="left:171.00px;top:5.10px;font-size:10.3px;-webkit-text-stroke:0.15px #222;">B.</span>
<div style="left:396.80px;top:7.95px;width:124.10px;height:0.60px;background:#f6f6f6;"></div>
<div style="left:396.80px;top:13.66px;width:124.10px;height:0.60px;background:#f6f6f6;"></div>
<div style="left:396.80px;top:19.37px;width:124.10px;height:0.60px;background:#f6f6f6;"></div>
<div style="left:396.80px;top:25.08px;width:124.10px;height:0.60px;background:#f6f6f6;"></div>
<div style="left:396.80px;top:30.79px;width:124.10px;height:0.60px;background:#f6f6f6;"></div>
<div style="left:396.80px;top:36.50px;width:124.10px;height:0.60px;background:#f6f6f6;"></div>
<div style="left:396.80px;top:42.21px;width:124.10px;height:0.60px;background:#f6f6f6;"></div>
<div style="left:396.80px;top:47.92px;width:124.10px;height:0.60px;background:#f6f6f6;"></div>
<div style="left:396.80px;top:53.63px;width:124.10px;height:0.60px;background:#f6f6f6;"></div>
<div style="left:396.80px;top:59.34px;width:124.10px;height:0.60px;background:#f6f6f6;"></div>
<div style="left:396.80px;top:65.04px;width:124.10px;height:0.60px;background:#f6f6f6;"></div>
<div style="left:396.80px;top:70.75px;width:124.10px;height:0.60px;background:#f6f6f6;"></div>
<div style="left:396.80px;top:76.46px;width:124.10px;height:0.60px;background:#f6f6f6;"></div>
<div style="left:396.80px;top:82.17px;width:124.10px;height:0.60px;background:#f6f6f6;"></div>
<div style="left:396.80px;top:87.88px;width:124.10px;height:0.60px;background:#f6f6f6;"></div>
<div style="left:396.80px;top:93.59px;width:124.10px;height:0.60px;background:#f6f6f6;"></div>
<div style="left:396.80px;top:99.30px;width:124.10px;height:0.60px;background:#f6f6f6;"></div>
<div style="left:396.80px;top:105.01px;width:124.10px;height:0.60px;background:#f6f6f6;"></div>
<div style="left:396.80px;top:110.72px;width:124.10px;height:0.60px;background:#f6f6f6;"></div>
<div style="left:396.80px;top:116.43px;width:124.10px;height:0.60px;background:#f6f6f6;"></div>
<div style="left:396.80px;top:122.13px;width:124.10px;height:0.60px;background:#f6f6f6;"></div>
<div style="left:396.80px;top:127.84px;width:124.10px;height:0.60px;background:#f6f6f6;"></div>
<div style="left:396.80px;top:133.55px;width:124.10px;height:0.60px;background:#f6f6f6;"></div>
<div style="left:396.80px;top:139.26px;width:124.10px;height:0.60px;background:#f6f6f6;"></div>
<div style="left:396.80px;top:144.97px;width:124.10px;height:0.60px;background:#f6f6f6;"></div>
<div style="left:396.80px;top:150.68px;width:124.10px;height:0.60px;background:#f6f6f6;"></div>
<div style="left:396.80px;top:156.39px;width:124.10px;height:0.60px;background:#f6f6f6;"></div>
<div style="left:396.80px;top:162.10px;width:124.10px;height:0.60px;background:#f6f6f6;"></div>
<div style="left:396.80px;top:167.81px;width:124.10px;height:0.60px;background:#f6f6f6;"></div>
<div style="left:396.80px;top:173.52px;width:124.10px;height:0.60px;background:#f6f6f6;"></div>
<div style="left:396.80px;top:179.22px;width:124.10px;height:0.60px;background:#f6f6f6;"></div>
<div style="left:396.80px;top:184.93px;width:124.10px;height:0.60px;background:#f6f6f6;"></div>
<div style="left:396.80px;top:190.64px;width:124.10px;height:0.60px;background:#f6f6f6;"></div>
<div style="left:396.80px;top:196.35px;width:124.10px;height:0.60px;background:#f6f6f6;"></div>
<div style="left:396.80px;top:202.06px;width:124.10px;height:0.60px;background:#f6f6f6;"></div>
<div style="left:396.80px;top:207.77px;width:124.10px;height:0.60px;background:#f6f6f6;"></div>
<div style="left:396.80px;top:213.48px;width:124.10px;height:0.60px;background:#f6f6f6;"></div>
<div style="left:396.80px;top:219.19px;width:124.10px;height:0.60px;background:#f6f6f6;"></div>
<div style="left:396.80px;top:224.90px;width:124.10px;height:0.60px;background:#f6f6f6;"></div>
<div style="left:396.80px;top:230.61px;width:124.10px;height:0.60px;background:#f6f6f6;"></div>
<div style="left:396.80px;top:236.31px;width:124.10px;height:0.60px;background:#f6f6f6;"></div>
<div style="left:396.80px;top:242.02px;width:124.10px;height:0.60px;background:#f6f6f6;"></div>
<div style="left:396.80px;top:247.73px;width:124.10px;height:0.60px;background:#f6f6f6;"></div>
<div style="left:396.80px;top:253.44px;width:124.10px;height:0.60px;background:#f6f6f6;"></div>
<div style="left:396.80px;top:259.15px;width:124.10px;height:0.60px;background:#f6f6f6;"></div>
<div style="left:396.80px;top:264.86px;width:124.10px;height:0.60px;background:#f6f6f6;"></div>
<div style="left:396.80px;top:270.57px;width:124.10px;height:0.60px;background:#f6f6f6;"></div>
<div style="left:396.80px;top:276.28px;width:124.10px;height:0.60px;background:#f6f6f6;"></div>
<div style="left:396.80px;top:281.99px;width:124.10px;height:0.60px;background:#f6f6f6;"></div>
<div style="left:396.80px;top:287.70px;width:124.10px;height:0.60px;background:#f6f6f6;"></div>
<div style="left:396.80px;top:293.40px;width:124.10px;height:0.60px;background:#f6f6f6;"></div>
<div style="left:396.80px;top:299.11px;width:124.10px;height:0.60px;background:#f6f6f6;"></div>
<div style="left:396.80px;top:304.82px;width:124.10px;height:0.60px;background:#f6f6f6;"></div>
<div style="left:396.80px;top:310.53px;width:124.10px;height:0.60px;background:#f6f6f6;"></div>
<div style="left:396.80px;top:316.24px;width:124.10px;height:0.60px;background:#f6f6f6;"></div>
<div style="left:396.80px;top:321.95px;width:124.10px;height:0.60px;background:#f6f6f6;"></div>
<div style="left:396.80px;top:327.66px;width:124.10px;height:0.60px;background:#f6f6f6;"></div>
<div style="left:396.80px;top:333.37px;width:124.10px;height:0.60px;background:#f6f6f6;"></div>
<div style="left:396.80px;top:339.08px;width:124.10px;height:0.60px;background:#f6f6f6;"></div>
<div style="left:412.95px;top:5.30px;width:0.60px;height:337.90px;background:#fbfbfb;"></div>
<div style="left:428.30px;top:5.30px;width:0.60px;height:337.90px;background:#f0f0f0;"></div>
<div style="left:443.65px;top:5.30px;width:0.60px;height:337.90px;background:#fbfbfb;"></div>
<div style="left:459.00px;top:5.30px;width:0.60px;height:337.90px;background:#f0f0f0;"></div>
<div style="left:474.35px;top:5.30px;width:0.60px;height:337.90px;background:#fbfbfb;"></div>
<div style="left:489.70px;top:5.30px;width:0.60px;height:337.90px;background:#f0f0f0;"></div>
<div style="left:505.05px;top:5.30px;width:0.60px;height:337.90px;background:#fbfbfb;"></div>
<div style="left:390.90px;top:5.30px;width:130.00px;height:0.80px;background:#d9d9d9;"></div>
<div style="left:520.90px;top:5.30px;width:0.80px;height:337.90px;background:#d9d9d9;"></div>
<div style="left:390.90px;top:343.20px;width:130.80px;height:0.80px;background:#d9d9d9;"></div>
<div style="left:396.70px;top:5.30px;width:0.60px;height:337.90px;background:#e8e8e8;"></div>
<div style="left:397.60px;top:343.20px;width:0.70px;height:1.60px;background:#bfbfbf;"></div>
<div style="left:428.30px;top:343.20px;width:0.70px;height:1.60px;background:#bfbfbf;"></div>
<div style="left:459.00px;top:343.20px;width:0.70px;height:1.60px;background:#bfbfbf;"></div>
<div style="left:489.70px;top:343.20px;width:0.70px;height:1.60px;background:#bfbfbf;"></div>
<div style="left:520.40px;top:343.20px;width:0.70px;height:1.60px;background:#bfbfbf;"></div>
<div style="left:383.80px;top:6.20px;width:7.00px;height:56.20px;background:#7030a0;"></div>
<div style="left:383.80px;top:62.40px;width:7.00px;height:51.10px;background:#00b0f0;"></div>
<div style="left:383.80px;top:113.50px;width:7.00px;height:113.50px;background:#92d050;"></div>
<div style="left:383.80px;top:227.00px;width:7.00px;height:115.60px;background:#ff0000;"></div>
<div style="left:397.30px;top:6.10px;width:2.00px;height:4.30px;background:#1f78b4;"></div>
<div style="left:399.30px;top:6.10px;width:1.10px;height:4.30px;background:#a6cee3;"></div>
<div style="left:397.30px;top:11.81px;width:0.70px;height:4.30px;background:#c8d2d6;"></div>
<div style="left:397.30px;top:17.52px;width:0.70px;height:4.30px;background:#c8d2d6;"></div>
<div style="left:397.30px;top:23.23px;width:2.00px;height:4.30px;background:#ffff99;"></div>
<div style="left:397.30px;top:28.94px;width:0.70px;height:4.30px;background:#c8d2d6;"></div>
<div style="left:397.30px;top:34.65px;width:0.90px;height:4.30px;background:#6a3d9a;"></div>
<div style="left:398.20px;top:34.65px;width:6.50px;height:4.30px;background:#a6cee3;"></div>
<div style="left:397.30px;top:40.36px;width:2.50px;height:4.30px;background:#ffff99;"></div>
<div style="left:397.30px;top:46.07px;width:0.70px;height:4.30px;background:#cab2d6;"></div>
<div style="left:397.30px;top:51.78px;width:2.50px;height:4.30px;background:#c8d2d6;"></div>
<div style="left:397.30px;top:63.19px;width:5.80px;height:4.30px;background:#ff7f00;"></div>
<div style="left:403.10px;top:63.19px;width:8.00px;height:4.30px;background:#33a02c;"></div>
<div style="left:411.10px;top:63.19px;width:8.00px;height:4.30px;background:#b2df8a;"></div>
<div style="left:419.10px;top:63.19px;width:3.60px;height:4.30px;background:#1f78b4;"></div>
<div style="left:422.70px;top:63.19px;width:10.90px;height:4.30px;background:#a6cee3;"></div>
<div style="left:397.30px;top:74.61px;width:0.70px;height:4.30px;background:#fb9a99;"></div>
<div style="left:397.30px;top:86.03px;width:2.90px;height:4.30px;background:#a6cee3;"></div>
<div style="left:397.30px;top:91.74px;width:10.20px;height:4.30px;background:#ffff99;"></div>
<div style="left:407.50px;top:91.74px;width:2.10px;height:4.30px;background:#cab2d6;"></div>
<div style="left:409.60px;top:91.74px;width:13.90px;height:4.30px;background:#fb9a99;"></div>
<div style="left:423.50px;top:91.74px;width:10.10px;height:4.30px;background:#b2df8a;"></div>
<div style="left:433.60px;top:91.74px;width:2.90px;height:4.30px;background:#1f78b4;"></div>
<div style="left:436.50px;top:91.74px;width:79.50px;height:4.30px;background:#a6cee3;"></div>
<div style="left:397.30px;top:97.45px;width:6.50px;height:4.30px;background:#ffff99;"></div>
<div style="left:403.80px;top:97.45px;width:1.50px;height:4.30px;background:#e31a1c;"></div>
<div style="left:405.30px;top:97.45px;width:10.20px;height:4.30px;background:#b2df8a;"></div>
<div style="left:415.50px;top:97.45px;width:4.30px;height:4.30px;background:#1f78b4;"></div>
<div style="left:419.80px;top:97.45px;width:77.30px;height:4.30px;background:#a6cee3;"></div>
<div style="left:397.30px;top:103.16px;width:3.60px;height:4.30px;background:#ffff99;"></div>
<div style="left:400.90px;top:103.16px;width:1.50px;height:4.30px;background:#e31a1c;"></div>
<div style="left:402.40px;top:103.16px;width:19.60px;height:4.30px;background:#b2df8a;"></div>
<div style="left:422.00px;top:103.16px;width:3.60px;height:4.30px;background:#1f78b4;"></div>
<div style="left:425.60px;top:103.16px;width:67.90px;height:4.30px;background:#a6cee3;"></div>
<div style="left:397.30px;top:108.87px;width:2.20px;height:4.30px;background:#e31a1c;"></div>
<div style="left:399.50px;top:108.87px;width:2.90px;height:4.30px;background:#fb9a99;"></div>
<div style="left:402.40px;top:108.87px;width:12.30px;height:4.30px;background:#b2df8a;"></div>
<div style="left:414.70px;top:108.87px;width:8.80px;height:4.30px;background:#1f78b4;"></div>
<div style="left:423.50px;top:108.87px;width:59.00px;height:4.30px;background:#a6cee3;"></div>
<div style="left:397.30px;top:114.58px;width:0.70px;height:4.30px;background:#c8d2d6;"></div>
<div style="left:397.30px;top:120.28px;width:0.70px;height:4.30px;background:#c8d2d6;"></div>
<div style="left:397.30px;top:125.99px;width:0.70px;height:4.30px;background:#c8d2d6;"></div>
<div style="left:397.30px;top:131.70px;width:0.70px;height:4.30px;background:#c8d2d6;"></div>
<div style="left:397.30px;top:137.41px;width:0.90px;height:4.30px;background:#ffff99;"></div>
<div style="left:398.20px;top:137.41px;width:2.20px;height:4.30px;background:#ff7f00;"></div>
<div style="left:400.40px;top:137.41px;width:1.10px;height:4.30px;background:#b2df8a;"></div>
<div style="left:401.50px;top:137.41px;width:3.80px;height:4.30px;background:#1f78b4;"></div>
<div style="left:405.30px;top:137.41px;width:0.50px;height:4.30px;background:#a6cee3;"></div>
<div style="left:397.30px;top:148.83px;width:0.70px;height:4.30px;background:#c8d2d6;"></div>
<div style="left:397.30px;top:160.25px;width:2.00px;height:4.30px;background:#b2df8a;"></div>
<div style="left:399.30px;top:160.25px;width:3.20px;height:4.30px;background:#1f78b4;"></div>
<div style="left:402.50px;top:160.25px;width:1.70px;height:4.30px;background:#a6cee3;"></div>
<div style="left:397.30px;top:171.67px;width:2.90px;height:4.30px;background:#1f78b4;"></div>
<div style="left:397.30px;top:177.37px;width:0.70px;height:4.30px;background:#1f78b4;"></div>
<div style="left:397.30px;top:183.08px;width:12.30px;height:4.30px;background:#ffff99;"></div>
<div style="left:409.60px;top:183.08px;width:5.10px;height:4.30px;background:#fdbf6f;"></div>
<div style="left:414.70px;top:183.08px;width:86.00px;height:4.30px;background:#1f78b4;"></div>
<div style="left:500.70px;top:183.08px;width:14.60px;height:4.30px;background:#a6cee3;"></div>
<div style="left:397.30px;top:188.79px;width:5.80px;height:4.30px;background:#ffff99;"></div>
<div style="left:403.10px;top:188.79px;width:1.40px;height:4.30px;background:#fdbf6f;"></div>
<div style="left:404.50px;top:188.79px;width:16.00px;height:4.30px;background:#b2df8a;"></div>
<div style="left:420.50px;top:188.79px;width:2.20px;height:4.30px;background:#a6cee3;"></div>
<div style="left:397.30px;top:194.50px;width:0.70px;height:4.30px;background:#c8d2d6;"></div>
<div style="left:397.30px;top:200.21px;width:3.60px;height:4.30px;background:#1f78b4;"></div>
<div style="left:400.90px;top:200.21px;width:3.30px;height:4.30px;background:#a6cee3;"></div>
<div style="left:397.30px;top:211.63px;width:14.00px;height:4.30px;background:#1f78b4;"></div>
<div style="left:397.30px;top:217.34px;width:39.60px;height:4.30px;background:#1f78b4;"></div>
<div style="left:397.30px;top:228.76px;width:1.40px;height:4.30px;background:#fdbf6f;"></div>
<div style="left:398.70px;top:228.76px;width:3.30px;height:4.30px;background:#1f78b4;"></div>
<div style="left:402.00px;top:228.76px;width:12.00px;height:4.30px;background:#a6cee3;"></div>
<div style="left:397.30px;top:234.46px;width:3.60px;height:4.30px;background:#b2df8a;"></div>
<div style="left:400.90px;top:234.46px;width:1.60px;height:4.30px;background:#1f78b4;"></div>
<div style="left:402.50px;top:234.46px;width:3.30px;height:4.30px;background:#a6cee3;"></div>
<div style="left:397.30px;top:240.17px;width:2.00px;height:4.30px;background:#c8d2d6;"></div>
<div style="left:397.30px;top:257.30px;width:6.50px;height:4.30px;background:#6a3d9a;"></div>
<div style="left:403.80px;top:257.30px;width:2.90px;height:4.30px;background:#ff7f00;"></div>
<div style="left:406.70px;top:257.30px;width:5.10px;height:4.30px;background:#b2df8a;"></div>
<div style="left:411.80px;top:257.30px;width:10.90px;height:4.30px;background:#a6cee3;"></div>
<div style="left:397.30px;top:268.72px;width:3.60px;height:4.30px;background:#cab2d6;"></div>
<div style="left:400.90px;top:268.72px;width:3.60px;height:4.30px;background:#ff7f00;"></div>
<div style="left:404.50px;top:268.72px;width:2.20px;height:4.30px;background:#1f78b4;"></div>
<div style="left:406.70px;top:268.72px;width:24.80px;height:4.30px;background:#a6cee3;"></div>
<div style="left:397.30px;top:274.43px;width:2.90px;height:4.30px;background:#ffff99;"></div>
<div style="left:400.20px;top:274.43px;width:1.40px;height:4.30px;background:#6a3d9a;"></div>
<div style="left:401.60px;top:274.43px;width:5.10px;height:4.30px;background:#cab2d6;"></div>
<div style="left:406.70px;top:274.43px;width:2.20px;height:4.30px;background:#ff7f00;"></div>
<div style="left:408.90px;top:274.43px;width:5.80px;height:4.30px;background:#fb9a99;"></div>
<div style="left:414.70px;top:274.43px;width:12.40px;height:4.30px;background:#b2df8a;"></div>
<div style="left:427.10px;top:274.43px;width:2.90px;height:4.30px;background:#1f78b4;"></div>
<div style="left:430.00px;top:274.43px;width:40.50px;height:4.30px;background:#a6cee3;"></div>
<div style="left:397.30px;top:280.14px;width:2.90px;height:4.30px;background:#ffff99;"></div>
<div style="left:400.20px;top:280.14px;width:1.40px;height:4.30px;background:#6a3d9a;"></div>
<div style="left:401.60px;top:280.14px;width:1.40px;height:4.30px;background:#fb9a99;"></div>
<div style="left:403.00px;top:280.14px;width:3.00px;height:4.30px;background:#b2df8a;"></div>
<div style="left:406.00px;top:280.14px;width:8.70px;height:4.30px;background:#a6cee3;"></div>
<div style="left:397.30px;top:285.85px;width:4.30px;height:4.30px;background:#ffff99;"></div>
<div style="left:401.60px;top:285.85px;width:2.20px;height:4.30px;background:#fb9a99;"></div>
<div style="left:403.80px;top:285.85px;width:4.40px;height:4.30px;background:#1f78b4;"></div>
<div style="left:408.20px;top:285.85px;width:42.20px;height:4.30px;background:#a6cee3;"></div>
<div style="left:397.30px;top:291.55px;width:11.60px;height:4.30px;background:#1f78b4;"></div>
<div style="left:397.30px;top:297.26px;width:10.90px;height:4.30px;background:#e31a1c;"></div>
<div style="left:408.20px;top:297.26px;width:13.80px;height:4.30px;background:#b2df8a;"></div>
<div style="left:422.00px;top:297.26px;width:18.20px;height:4.30px;background:#a6cee3;"></div>
<div style="left:397.30px;top:308.68px;width:2.20px;height:4.30px;background:#1f78b4;"></div>
<div style="left:397.30px;top:314.39px;width:0.70px;height:4.30px;background:#c8d2d6;"></div>
<span class="t ax" style="left:390.60px;top:349.73px;width:20px;">0%</span>
<span class="t ax" style="left:420.00px;top:349.73px;width:20px;">10%</span>
<span class="t ax" style="left:450.60px;top:349.73px;width:20px;">20%</span>
<span class="t ax" style="left:481.20px;top:349.73px;width:20px;">30%</span>
<span class="t ax" style="left:511.00px;top:349.73px;width:20px;">40%</span>
<span class="t ax tt" style="left:426.50px;top:356.65px;width:60px;">% composition</span>
<span class="t lab" style="left:364.00px;top:4.40px;font-size:10.3px;-webkit-text-stroke:0.15px #222;">C.</span>
<span class="t cat" style="left:-30.10px;top:31.20px;">Underwear</span>
<span class="t cat" style="left:-30.10px;top:83.10px;">Onesies</span>
<span class="t cat" style="left:-30.10px;top:168.40px;">Socks</span>
<span class="t cat" style="left:-30.10px;top:276.00px;">T-shirts</span>
<div style="left:86.50px;top:12.50px;width:90.00px;height:90.00px;background:#ffffff;"></div>
<span class="t ltitle" style="left:88.70px;top:15.20px;">Strains</span>
<div style="left:88.90px;top:20.50px;width:6.70px;height:6.30px;background:#a6cee3;"></div>
<span class="t li liA" style="left:97.40px;top:21.15px;">seq3.Staphylococcus.epidermidis.hominis</span>
<div style="left:88.90px;top:27.91px;width:6.70px;height:6.30px;background:#1f78b4;"></div>
<span class="t li liA" style="left:97.40px;top:28.56px;">seq4.Staphylococcus.capitis.caprae.epidermidis</span>
<div style="left:88.90px;top:35.32px;width:6.70px;height:6.30px;background:#b2df8a;"></div>
<span class="t li liA" style="left:97.40px;top:35.97px;">seq5.Staphylococcus.pasteuri.warneri</span>
<div style="left:88.90px;top:42.73px;width:6.70px;height:6.30px;background:#33a02c;"></div>
<span class="t li liA" style="left:97.40px;top:43.38px;">seq7.Staphylococcus.capitis.caprae.epidermidis</span>
<div style="left:88.90px;top:50.14px;width:6.70px;height:6.30px;background:#fb9a99;"></div>
<span class="t li liA" style="left:97.40px;top:50.79px;">seq10.Staphylococcus.saprophyticus</span>
<div style="left:88.90px;top:57.55px;width:6.70px;height:6.30px;background:#e31a1c;"></div>
<span class="t li liA" style="left:97.40px;top:58.20px;">seq11.Staphylococcus.haemolyticus.petrasii</span>
<div style="left:88.90px;top:64.96px;width:6.70px;height:6.30px;background:#fdbf6f;"></div>
<span class="t li liA" style="left:97.40px;top:65.61px;">seq25.Staphylococcus.saprophyticus.xylosus</span>
<div style="left:88.90px;top:72.37px;width:6.70px;height:6.30px;background:#ff7f00;"></div>
<span class="t li liA" style="left:97.40px;top:73.02px;">seq30.Staphylococcus.lugdunensis</span>
<div style="left:88.90px;top:79.78px;width:6.70px;height:6.30px;background:#cab2d6;"></div>
<span class="t li liA" style="left:97.40px;top:80.43px;">seq36.Staphylococcus.haemolyticus</span>
<div style="left:88.90px;top:87.19px;width:6.70px;height:6.30px;background:#6a3d9a;"></div>
<span class="t li liA" style="left:97.40px;top:87.84px;">seq45.Staphylococcus.capitis.caprae.epidermidis</span>
<div style="left:88.90px;top:94.60px;width:6.70px;height:6.30px;background:#ffff99;"></div>
<span class="t li liA" style="left:97.40px;top:95.25px;">others</span>
<div style="left:251.50px;top:6.00px;width:105.00px;height:100.00px;background:#ffffff;"></div>
<span class="t ltitle" style="left:253.60px;top:14.10px;">Strains</span>
<div style="left:253.60px;top:19.30px;width:7.20px;height:6.60px;background:#a6cee3;"></div>
<span class="t li liB" style="left:262.40px;top:20.10px;">seq1.Propionibacterium.acnes</span>
<div style="left:253.60px;top:27.06px;width:7.20px;height:6.60px;background:#1f78b4;"></div>
<span class="t li liB" style="left:262.40px;top:27.86px;">seq16.Propionibacterium.acnes.humerusii</span>
<div style="left:253.60px;top:34.82px;width:7.20px;height:6.60px;background:#b2df8a;"></div>
<span class="t li liB" style="left:262.40px;top:35.62px;">seq139.Propionibacterium.granulosum</span>
<div style="left:253.60px;top:42.58px;width:7.20px;height:6.60px;background:#33a02c;"></div>
<span class="t li liB" style="left:262.40px;top:43.38px;">seq312.Propionibacterium.acnes</span>
<div style="left:253.60px;top:50.34px;width:7.20px;height:6.60px;background:#fb9a99;"></div>
<span class="t li liB" style="left:262.40px;top:51.14px;">seq365.Propionibacterium.avidum</span>
<div style="left:253.60px;top:58.10px;width:7.20px;height:6.60px;background:#e31a1c;"></div>
<span class="t li liB" style="left:262.40px;top:58.90px;">seq223.Propionibacterium.acnes</span>
<div style="left:253.60px;top:65.86px;width:7.20px;height:6.60px;background:#fdbf6f;"></div>
<span class="t li liB" style="left:262.40px;top:66.66px;">seq301.Propionibacterium.acnes</span>
<div style="left:253.60px;top:73.62px;width:7.20px;height:6.60px;background:#ff7f00;"></div>
<span class="t li liB" style="left:262.40px;top:74.42px;">seq572.Propionibacterium.acnes.humerusii</span>
<div style="left:253.60px;top:81.38px;width:7.20px;height:6.60px;background:#cab2d6;"></div>
<span class="t li liB" style="left:262.40px;top:82.18px;">seq918.Propionibacterium.acnes</span>
<div style="left:253.60px;top:89.14px;width:7.20px;height:6.60px;background:#6a3d9a;"></div>
<span class="t li liB" style="left:262.40px;top:89.94px;">seq1440.Propionibacterium.sp7795</span>
<div style="left:253.60px;top:96.90px;width:7.20px;height:6.60px;background:#ffff99;"></div>
<span class="t li liB" style="left:262.40px;top:97.70px;">others</span>
<div style="left:463.50px;top:0.00px;width:90.00px;height:88.00px;background:#ffffff;"></div>
<span class="t ltitle" style="left:466.40px;top:3.80px;">Strains</span>
<div style="left:466.40px;top:8.60px;width:6.60px;height:5.90px;background:#a6cee3;"></div>
<span class="t li liC" style="left:474.40px;top:9.05px;">seq8.Streptococcus.mitis.oralis.sanguinis</span>
<div style="left:466.40px;top:15.64px;width:6.60px;height:5.90px;background:#1f78b4;"></div>
<span class="t li liC" style="left:474.40px;top:16.09px;">seq9.Streptococcus.salivarius.thermophilus</span>
<div style="left:466.40px;top:22.68px;width:6.60px;height:5.90px;background:#b2df8a;"></div>
<span class="t li liC" style="left:474.40px;top:23.13px;">seq32.Streptococcus.salivarius.vestibularis</span>
<div style="left:466.40px;top:29.72px;width:6.60px;height:5.90px;background:#33a02c;"></div>
<span class="t li liC" style="left:474.40px;top:30.17px;">seq222.Streptococcus.equinus.infantarius.lutetiensis</span>
<div style="left:466.40px;top:36.76px;width:6.60px;height:5.90px;background:#fb9a99;"></div>
<span class="t li liC" style="left:474.40px;top:37.21px;">seq104.Streptococcus.sanguinis</span>
<div style="left:466.40px;top:43.80px;width:6.60px;height:5.90px;background:#e31a1c;"></div>
<span class="t li liC" style="left:474.40px;top:44.25px;">seq274.Streptococcus.parasanguinis</span>
<div style="left:466.40px;top:50.84px;width:6.60px;height:5.90px;background:#fdbf6f;"></div>
<span class="t li liC" style="left:474.40px;top:51.29px;">seq248.Streptococcus.oralis.parasanguinis</span>
<div style="left:466.40px;top:57.88px;width:6.60px;height:5.90px;background:#ff7f00;"></div>
<span class="t li liC" style="left:474.40px;top:58.33px;">seq244.Streptococcus.mitis.oralis.sanguinis</span>
<div style="left:466.40px;top:64.92px;width:6.60px;height:5.90px;background:#cab2d6;"></div>
<span class="t li liC" style="left:474.40px;top:65.37px;">seq177.Streptococcus.mitis.pneumoniae</span>
<div style="left:466.40px;top:71.96px;width:6.60px;height:5.90px;background:#6a3d9a;"></div>
<span class="t li liC" style="left:474.40px;top:72.41px;">seq305.Streptococcus.gordonii</span>
<div style="left:466.40px;top:79.00px;width:6.60px;height:5.90px;background:#ffff99;"></div>
<span class="t li liC" style="left:474.40px;top:79.45px;">others</span>
</div><div id="wrap2">
<div style="left:27.90px;top:6.35px;width:117.30px;height:0.60px;background:#f6f6f6;"></div>
<div style="left:27.90px;top:12.06px;width:117.30px;height:0.60px;background:#f6f6f6;"></div>
<div style="left:27.90px;top:17.77px;width:117.30px;height:0.60px;background:#f6f6f6;"></div>
<div style="left:27.90px;top:23.48px;width:117.30px;height:0.60px;background:#f6f6f6;"></div>
<div style="left:27.90px;top:29.19px;width:117.30px;height:0.60px;background:#f6f6f6;"></div>
<div style="left:27.90px;top:34.90px;width:117.30px;height:0.60px;background:#f6f6f6;"></div>
<div style="left:27.90px;top:40.61px;width:117.30px;height:0.60px;background:#f6f6f6;"></div>
<div style="left:27.90px;top:46.32px;width:117.30px;height:0.60px;background:#f6f6f6;"></div>
<div style="left:27.90px;top:52.03px;width:117.30px;height:0.60px;background:#f6f6f6;"></div>
<div style="left:27.90px;top:57.74px;width:117.30px;height:0.60px;background:#f6f6f6;"></div>
<div style="left:27.90px;top:63.44px;width:117.30px;height:0.60px;background:#f6f6f6;"></div>
<div style="left:27.90px;top:69.15px;width:117.30px;height:0.60px;background:#f6f6f6;"></div>
<div style="left:27.90px;top:74.86px;width:117.30px;height:0.60px;background:#f6f6f6;"></div>
<div style="left:27.90px;top:80.57px;width:117.30px;height:0.60px;background:#f6f6f6;"></div>
<div style="left:27.90px;top:86.28px;width:117.30px;height:0.60px;background:#f6f6f6;"></div>
<div style="left:27.90px;top:91.99px;width:117.30px;height:0.60px;background:#f6f6f6;"></div>
<div style="left:27.90px;top:97.70px;width:117.30px;height:0.60px;background:#f6f6f6;"></div>
<div style="left:27.90px;top:103.41px;width:117.30px;height:0.60px;background:#f6f6f6;"></div>
<div style="left:27.90px;top:109.12px;width:117.30px;height:0.60px;background:#f6f6f6;"></div>
<div style="left:27.90px;top:114.83px;width:117.30px;height:0.60px;background:#f6f6f6;"></div>
<div style="left:27.90px;top:120.53px;width:117.30px;height:0.60px;background:#f6f6f6;"></div>
<div style="left:27.90px;top:126.24px;width:117.30px;height:0.60px;background:#f6f6f6;"></div>
<div style="left:27.90px;top:131.95px;width:117.30px;height:0.60px;background:#f6f6f6;"></div>
<div style="left:27.90px;top:137.66px;width:117.30px;height:0.60px;background:#f6f6f6;"></div>
<div style="left:27.90px;top:143.37px;width:117.30px;height:0.60px;background:#f6f6f6;"></div>
<div style="left:27.90px;top:149.08px;width:117.30px;height:0.60px;background:#f6f6f6;"></div>
<div style="left:27.90px;top:154.79px;width:117.30px;height:0.60px;background:#f6f6f6;"></div>
<div style="left:27.90px;top:160.50px;width:117.30px;height:0.60px;background:#f6f6f6;"></div>
<div style="left:27.90px;top:166.21px;width:117.30px;height:0.60px;background:#f6f6f6;"></div>
<div style="left:27.90px;top:171.92px;width:117.30px;height:0.60px;background:#f6f6f6;"></div>
<div style="left:27.90px;top:177.62px;width:117.30px;height:0.60px;background:#f6f6f6;"></div>
<div style="left:27.90px;top:183.33px;width:117.30px;height:0.60px;background:#f6f6f6;"></div>
<div style="left:27.90px;top:189.04px;width:117.30px;height:0.60px;background:#f6f6f6;"></div>
<div style="left:27.90px;top:194.75px;width:117.30px;height:0.60px;background:#f6f6f6;"></div>
<div style="left:27.90px;top:200.46px;width:117.30px;height:0.60px;background:#f6f6f6;"></div>
<div style="left:27.90px;top:206.17px;width:117.30px;height:0.60px;background:#f6f6f6;"></div>
<div style="left:27.90px;top:211.88px;width:117.30px;height:0.60px;background:#f6f6f6;"></div>
<div style="left:27.90px;top:217.59px;width:117.30px;height:0.60px;background:#f6f6f6;"></div>
<div style="left:27.90px;top:223.30px;width:117.30px;height:0.60px;background:#f6f6f6;"></div>
<div style="left:27.90px;top:229.01px;width:117.30px;height:0.60px;background:#f6f6f6;"></div>
<div style="left:27.90px;top:234.71px;width:117.30px;height:0.60px;background:#f6f6f6;"></div>
<div style="left:27.90px;top:240.42px;width:117.30px;height:0.60px;background:#f6f6f6;"></div>
<div style="left:27.90px;top:246.13px;width:117.30px;height:0.60px;background:#f6f6f6;"></div>
<div style="left:27.90px;top:251.84px;width:117.30px;height:0.60px;background:#f6f6f6;"></div>
<div style="left:27.90px;top:257.55px;width:117.30px;height:0.60px;background:#f6f6f6;"></div>
<div style="left:27.90px;top:263.26px;width:117.30px;height:0.60px;background:#f6f6f6;"></div>
<div style="left:27.90px;top:268.97px;width:117.30px;height:0.60px;background:#f6f6f6;"></div>
<div style="left:27.90px;top:274.68px;width:117.30px;height:0.60px;background:#f6f6f6;"></div>
<div style="left:27.90px;top:280.39px;width:117.30px;height:0.60px;background:#f6f6f6;"></div>
<div style="left:27.90px;top:286.10px;width:117.30px;height:0.60px;background:#f6f6f6;"></div>
<div style="left:27.90px;top:291.80px;width:117.30px;height:0.60px;background:#f6f6f6;"></div>
<div style="left:27.90px;top:297.51px;width:117.30px;height:0.60px;background:#f6f6f6;"></div>
<div style="left:27.90px;top:303.22px;width:117.30px;height:0.60px;background:#f6f6f6;"></div>
<div style="left:27.90px;top:308.93px;width:117.30px;height:0.60px;background:#f6f6f6;"></div>
<div style="left:27.90px;top:314.64px;width:117.30px;height:0.60px;background:#f6f6f6;"></div>
<div style="left:27.90px;top:320.35px;width:117.30px;height:0.60px;background:#f6f6f6;"></div>
<div style="left:27.90px;top:326.06px;width:117.30px;height:0.60px;background:#f6f6f6;"></div>
<div style="left:27.90px;top:331.77px;width:117.30px;height:0.60px;background:#f6f6f6;"></div>
<div style="left:27.90px;top:337.48px;width:117.30px;height:0.60px;background:#f6f6f6;"></div>
<div style="left:42.60px;top:3.50px;width:0.60px;height:339.30px;background:#fbfbfb;"></div>
<div style="left:57.30px;top:3.50px;width:0.60px;height:339.30px;background:#f0f0f0;"></div>
<div style="left:72.00px;top:3.50px;width:0.60px;height:339.30px;background:#fbfbfb;"></div>
<div style="left:86.70px;top:3.50px;width:0.60px;height:339.30px;background:#f0f0f0;"></div>
<div style="left:101.40px;top:3.50px;width:0.60px;height:339.30px;background:#fbfbfb;"></div>
<div style="left:116.10px;top:3.50px;width:0.60px;height:339.30px;background:#f0f0f0;"></div>
<div style="left:130.80px;top:3.50px;width:0.60px;height:339.30px;background:#fbfbfb;"></div>
<div style="left:24.50px;top:3.50px;width:120.70px;height:0.80px;background:#d9d9d9;"></div>
<div style="left:145.20px;top:3.50px;width:0.80px;height:339.30px;background:#d9d9d9;"></div>
<div style="left:24.50px;top:342.80px;width:121.50px;height:0.80px;background:#d9d9d9;"></div>
<div style="left:27.80px;top:3.50px;width:0.60px;height:339.30px;background:#e8e8e8;"></div>
<div style="left:27.90px;top:342.80px;width:0.70px;height:1.60px;background:#bfbfbf;"></div>
<div style="left:57.30px;top:342.80px;width:0.70px;height:1.60px;background:#bfbfbf;"></div>
<div style="left:86.70px;top:342.80px;width:0.70px;height:1.60px;background:#bfbfbf;"></div>
<div style="left:116.10px;top:342.80px;width:0.70px;height:1.60px;background:#bfbfbf;"></div>
<div style="left:16.00px;top:4.50px;width:7.00px;height:56.10px;background:#7030a0;"></div>
<div style="left:16.00px;top:60.60px;width:7.00px;height:51.20px;background:#00b0f0;"></div>
<div style="left:16.00px;top:111.80px;width:7.00px;height:113.60px;background:#92d050;"></div>
<div style="left:16.00px;top:225.40px;width:7.00px;height:115.20px;background:#ff0000;"></div>
<div style="left:28.40px;top:4.50px;width:1.80px;height:4.30px;background:#ffff99;"></div>
<div style="left:30.20px;top:4.50px;width:1.60px;height:4.30px;background:#ff7f00;"></div>
<div style="left:31.80px;top:4.50px;width:2.90px;height:4.30px;background:#1f78b4;"></div>
<div style="left:34.70px;top:4.50px;width:2.40px;height:4.30px;background:#a6cee3;"></div>
<div style="left:28.40px;top:10.21px;width:1.30px;height:4.30px;background:#ffff99;"></div>
<div style="left:29.70px;top:10.21px;width:1.30px;height:4.30px;background:#ff7f00;"></div>
<div style="left:31.00px;top:10.21px;width:7.80px;height:4.30px;background:#33a02c;"></div>
<div style="left:38.80px;top:10.21px;width:5.30px;height:4.30px;background:#1f78b4;"></div>
<div style="left:44.10px;top:10.21px;width:4.50px;height:4.30px;background:#a6cee3;"></div>
<div style="left:28.40px;top:15.92px;width:6.30px;height:4.30px;background:#ff7f00;"></div>
<div style="left:34.70px;top:15.92px;width:1.60px;height:4.30px;background:#33a02c;"></div>
<div style="left:36.30px;top:15.92px;width:9.10px;height:4.30px;background:#1f78b4;"></div>
<div style="left:28.40px;top:21.63px;width:3.80px;height:4.30px;background:#ffff99;"></div>
<div style="left:32.20px;top:21.63px;width:1.70px;height:4.30px;background:#33a02c;"></div>
<div style="left:33.90px;top:21.63px;width:7.80px;height:4.30px;background:#1f78b4;"></div>
<div style="left:41.70px;top:21.63px;width:7.30px;height:4.30px;background:#a6cee3;"></div>
<div style="left:28.40px;top:27.34px;width:5.00px;height:4.30px;background:#ffff99;"></div>
<div style="left:33.40px;top:27.34px;width:1.60px;height:4.30px;background:#cab2d6;"></div>
<div style="left:35.00px;top:27.34px;width:6.70px;height:4.30px;background:#1f78b4;"></div>
<div style="left:41.70px;top:27.34px;width:2.80px;height:4.30px;background:#a6cee3;"></div>
<div style="left:28.40px;top:33.05px;width:1.60px;height:4.30px;background:#6a3d9a;"></div>
<div style="left:30.00px;top:33.05px;width:0.60px;height:4.30px;background:#e31a1c;"></div>
<div style="left:30.60px;top:33.05px;width:1.40px;height:4.30px;background:#1f78b4;"></div>
<div style="left:32.00px;top:33.05px;width:1.40px;height:4.30px;background:#a6cee3;"></div>
<div style="left:28.40px;top:38.76px;width:1.80px;height:4.30px;background:#ffff99;"></div>
<div style="left:30.20px;top:38.76px;width:3.20px;height:4.30px;background:#ff7f00;"></div>
<div style="left:33.40px;top:38.76px;width:12.40px;height:4.30px;background:#1f78b4;"></div>
<div style="left:28.40px;top:44.47px;width:2.60px;height:4.30px;background:#ffff99;"></div>
<div style="left:31.00px;top:44.47px;width:3.30px;height:4.30px;background:#ff7f00;"></div>
<div style="left:34.30px;top:44.47px;width:49.90px;height:4.30px;background:#e31a1c;"></div>
<div style="left:84.20px;top:44.47px;width:0.60px;height:4.30px;background:#1f78b4;"></div>
<div style="left:28.40px;top:50.18px;width:3.80px;height:4.30px;background:#1f78b4;"></div>
<div style="left:32.20px;top:50.18px;width:7.00px;height:4.30px;background:#a6cee3;"></div>
<div style="left:28.40px;top:55.89px;width:2.00px;height:4.30px;background:#b2df8a;"></div>
<div style="left:30.40px;top:55.89px;width:1.20px;height:4.30px;background:#33a02c;"></div>
<div style="left:31.60px;top:55.89px;width:1.00px;height:4.30px;background:#1f78b4;"></div>
<div style="left:28.40px;top:61.59px;width:0.60px;height:4.30px;background:#c8d2d6;"></div>
<div style="left:28.40px;top:67.30px;width:0.60px;height:4.30px;background:#c8d2d6;"></div>
<div style="left:28.40px;top:84.43px;width:1.20px;height:4.30px;background:#1f78b4;"></div>
<div style="left:28.40px;top:90.14px;width:0.90px;height:4.30px;background:#ffff99;"></div>
<div style="left:29.30px;top:90.14px;width:3.30px;height:4.30px;background:#b2df8a;"></div>
<div style="left:32.60px;top:90.14px;width:7.00px;height:4.30px;background:#1f78b4;"></div>
<div style="left:28.40px;top:95.85px;width:2.60px;height:4.30px;background:#ffff99;"></div>
<div style="left:31.00px;top:95.85px;width:1.60px;height:4.30px;background:#33a02c;"></div>
<div style="left:32.60px;top:95.85px;width:4.50px;height:4.30px;background:#1f78b4;"></div>
<div style="left:28.40px;top:101.56px;width:3.00px;height:4.30px;background:#ffff99;"></div>
<div style="left:31.40px;top:101.56px;width:3.80px;height:4.30px;background:#1f78b4;"></div>
<div style="left:35.20px;top:101.56px;width:1.30px;height:4.30px;background:#a6cee3;"></div>
<div style="left:28.40px;top:107.27px;width:4.30px;height:4.30px;background:#1f78b4;"></div>
<div style="left:32.70px;top:107.27px;width:2.20px;height:4.30px;background:#a6cee3;"></div>
<div style="left:28.40px;top:112.98px;width:15.80px;height:4.30px;background:#ffff99;"></div>
<div style="left:44.20px;top:112.98px;width:8.20px;height:4.30px;background:#33a02c;"></div>
<div style="left:52.40px;top:112.98px;width:18.50px;height:4.30px;background:#1f78b4;"></div>
<div style="left:70.90px;top:112.98px;width:43.50px;height:4.30px;background:#a6cee3;"></div>
<div style="left:28.40px;top:118.68px;width:30.50px;height:4.30px;background:#ffff99;"></div>
<div style="left:58.90px;top:118.68px;width:2.70px;height:4.30px;background:#cab2d6;"></div>
<div style="left:61.60px;top:118.68px;width:2.80px;height:4.30px;background:#fb9a99;"></div>
<div style="left:64.40px;top:118.68px;width:41.80px;height:4.30px;background:#1f78b4;"></div>
<div style="left:106.20px;top:118.68px;width:4.90px;height:4.30px;background:#a6cee3;"></div>
<div style="left:28.40px;top:124.39px;width:20.10px;height:4.30px;background:#ffff99;"></div>
<div style="left:48.50px;top:124.39px;width:11.00px;height:4.30px;background:#cab2d6;"></div>
<div style="left:59.50px;top:124.39px;width:2.70px;height:4.30px;background:#fb9a99;"></div>
<div style="left:62.20px;top:124.39px;width:8.20px;height:4.30px;background:#33a02c;"></div>
<div style="left:70.40px;top:124.39px;width:15.60px;height:4.30px;background:#b2df8a;"></div>
<div style="left:86.00px;top:124.39px;width:13.10px;height:4.30px;background:#1f78b4;"></div>
<div style="left:99.10px;top:124.39px;width:16.90px;height:4.30px;background:#a6cee3;"></div>
<div style="left:28.40px;top:130.10px;width:7.60px;height:4.30px;background:#ffff99;"></div>
<div style="left:36.00px;top:130.10px;width:2.70px;height:4.30px;background:#e31a1c;"></div>
<div style="left:38.70px;top:130.10px;width:5.50px;height:4.30px;background:#33a02c;"></div>
<div style="left:44.20px;top:130.10px;width:42.90px;height:4.30px;background:#b2df8a;"></div>
<div style="left:87.10px;top:130.10px;width:9.30px;height:4.30px;background:#1f78b4;"></div>
<div style="left:96.40px;top:130.10px;width:4.90px;height:4.30px;background:#a6cee3;"></div>
<div style="left:28.40px;top:135.81px;width:8.70px;height:4.30px;background:#ffff99;"></div>
<div style="left:37.10px;top:135.81px;width:1.60px;height:4.30px;background:#33a02c;"></div>
<div style="left:38.70px;top:135.81px;width:29.50px;height:4.30px;background:#1f78b4;"></div>
<div style="left:68.20px;top:135.81px;width:30.90px;height:4.30px;background:#a6cee3;"></div>
<div style="left:28.40px;top:141.52px;width:3.80px;height:4.30px;background:#ffff99;"></div>
<div style="left:32.20px;top:141.52px;width:0.50px;height:4.30px;background:#e31a1c;"></div>
<div style="left:32.70px;top:141.52px;width:11.50px;height:4.30px;background:#1f78b4;"></div>
<div style="left:44.20px;top:141.52px;width:8.20px;height:4.30px;background:#a6cee3;"></div>
<div style="left:28.40px;top:147.23px;width:0.50px;height:4.30px;background:#ffff99;"></div>
<div style="left:28.90px;top:147.23px;width:1.10px;height:4.30px;background:#fb9a99;"></div>
<div style="left:30.00px;top:147.23px;width:1.60px;height:4.30px;background:#b2df8a;"></div>
<div style="left:31.60px;top:147.23px;width:2.20px;height:4.30px;background:#1f78b4;"></div>
<div style="left:28.40px;top:152.94px;width:1.60px;height:4.30px;background:#b2df8a;"></div>
<div style="left:30.00px;top:152.94px;width:2.20px;height:4.30px;background:#1f78b4;"></div>
<div style="left:28.40px;top:158.65px;width:30.00px;height:4.30px;background:#ffff99;"></div>
<div style="left:58.40px;top:158.65px;width:2.70px;height:4.30px;background:#fdbf6f;"></div>
<div style="left:61.10px;top:158.65px;width:3.80px;height:4.30px;background:#fb9a99;"></div>
<div style="left:64.90px;top:158.65px;width:1.60px;height:4.30px;background:#33a02c;"></div>
<div style="left:66.50px;top:158.65px;width:3.30px;height:4.30px;background:#b2df8a;"></div>
<div style="left:69.80px;top:158.65px;width:13.50px;height:4.30px;background:#1f78b4;"></div>
<div style="left:83.30px;top:158.65px;width:3.80px;height:4.30px;background:#a6cee3;"></div>
<div style="left:28.40px;top:164.36px;width:19.60px;height:4.30px;background:#ffff99;"></div>
<div style="left:48.00px;top:164.36px;width:5.50px;height:4.30px;background:#e31a1c;"></div>
<div style="left:53.50px;top:164.36px;width:1.60px;height:4.30px;background:#fb9a99;"></div>
<div style="left:55.10px;top:164.36px;width:16.90px;height:4.30px;background:#33a02c;"></div>
<div style="left:72.00px;top:164.36px;width:9.10px;height:4.30px;background:#b2df8a;"></div>
<div style="left:81.10px;top:164.36px;width:8.70px;height:4.30px;background:#a6cee3;"></div>
<div style="left:28.40px;top:170.07px;width:14.10px;height:4.30px;background:#ffff99;"></div>
<div style="left:42.50px;top:170.07px;width:1.70px;height:4.30px;background:#ff7f00;"></div>
<div style="left:44.20px;top:170.07px;width:1.10px;height:4.30px;background:#33a02c;"></div>
<div style="left:45.30px;top:170.07px;width:27.80px;height:4.30px;background:#1f78b4;"></div>
<div style="left:73.10px;top:170.07px;width:13.40px;height:4.30px;background:#a6cee3;"></div>
<div style="left:28.40px;top:175.77px;width:14.70px;height:4.30px;background:#ffff99;"></div>
<div style="left:43.10px;top:175.77px;width:13.60px;height:4.30px;background:#cab2d6;"></div>
<div style="left:56.70px;top:175.77px;width:21.30px;height:4.30px;background:#b2df8a;"></div>
<div style="left:78.00px;top:175.77px;width:3.60px;height:4.30px;background:#1f78b4;"></div>
<div style="left:81.60px;top:175.77px;width:40.90px;height:4.30px;background:#a6cee3;"></div>
<div style="left:28.40px;top:181.48px;width:0.60px;height:4.30px;background:#1f78b4;"></div>
<div style="left:28.40px;top:187.19px;width:3.80px;height:4.30px;background:#1f78b4;"></div>
<div style="left:32.20px;top:187.19px;width:2.20px;height:4.30px;background:#a6cee3;"></div>
<div style="left:28.40px;top:192.90px;width:7.60px;height:4.30px;background:#ffff99;"></div>
<div style="left:36.00px;top:192.90px;width:12.00px;height:4.30px;background:#1f78b4;"></div>
<div style="left:28.40px;top:198.61px;width:31.60px;height:4.30px;background:#ffff99;"></div>
<div style="left:60.00px;top:198.61px;width:28.70px;height:4.30px;background:#ff7f00;"></div>
<div style="left:88.70px;top:198.61px;width:33.30px;height:4.30px;background:#1f78b4;"></div>
<div style="left:28.40px;top:210.03px;width:3.20px;height:4.30px;background:#b2df8a;"></div>
<div style="left:28.40px;top:221.45px;width:1.10px;height:4.30px;background:#ffff99;"></div>
<div style="left:29.50px;top:221.45px;width:8.70px;height:4.30px;background:#fdbf6f;"></div>
<div style="left:38.20px;top:221.45px;width:11.40px;height:4.30px;background:#fb9a99;"></div>
<div style="left:49.60px;top:221.45px;width:1.10px;height:4.30px;background:#b2df8a;"></div>
<div style="left:50.70px;top:221.45px;width:4.40px;height:4.30px;background:#1f78b4;"></div>
<div style="left:55.10px;top:221.45px;width:21.30px;height:4.30px;background:#a6cee3;"></div>
<div style="left:28.40px;top:227.16px;width:3.80px;height:4.30px;background:#ffff99;"></div>
<div style="left:32.20px;top:227.16px;width:1.60px;height:4.30px;background:#33a02c;"></div>
<div style="left:33.80px;top:227.16px;width:10.90px;height:4.30px;background:#1f78b4;"></div>
<div style="left:44.70px;top:227.16px;width:2.20px;height:4.30px;background:#a6cee3;"></div>
<div style="left:28.40px;top:232.86px;width:2.10px;height:4.30px;background:#ffff99;"></div>
<div style="left:30.50px;top:232.86px;width:39.90px;height:4.30px;background:#33a02c;"></div>
<div style="left:70.40px;top:232.86px;width:23.80px;height:4.30px;background:#a6cee3;"></div>
<div style="left:28.40px;top:238.57px;width:2.10px;height:4.30px;background:#ff7f00;"></div>
<div style="left:30.50px;top:238.57px;width:6.00px;height:4.30px;background:#33a02c;"></div>
<div style="left:28.40px;top:244.28px;width:14.70px;height:4.30px;background:#ffff99;"></div>
<div style="left:43.10px;top:244.28px;width:34.90px;height:4.30px;background:#6a3d9a;"></div>
<div style="left:78.00px;top:244.28px;width:1.10px;height:4.30px;background:#ff7f00;"></div>
<div style="left:79.10px;top:244.28px;width:15.10px;height:4.30px;background:#33a02c;"></div>
<div style="left:94.20px;top:244.28px;width:1.60px;height:4.30px;background:#b2df8a;"></div>
<div style="left:95.80px;top:244.28px;width:14.70px;height:4.30px;background:#1f78b4;"></div>
<div style="left:110.50px;top:244.28px;width:0.60px;height:4.30px;background:#a6cee3;"></div>
<div style="left:28.40px;top:249.99px;width:6.00px;height:4.30px;background:#ffff99;"></div>
<div style="left:34.40px;top:249.99px;width:1.60px;height:4.30px;background:#cab2d6;"></div>
<div style="left:36.00px;top:249.99px;width:2.70px;height:4.30px;background:#fb9a99;"></div>
<div style="left:38.70px;top:249.99px;width:9.30px;height:4.30px;background:#33a02c;"></div>
<div style="left:48.00px;top:249.99px;width:38.50px;height:4.30px;background:#b2df8a;"></div>
<div style="left:86.50px;top:249.99px;width:1.70px;height:4.30px;background:#a6cee3;"></div>
<div style="left:28.40px;top:255.70px;width:1.10px;height:4.30px;background:#fdbf6f;"></div>
<div style="left:29.50px;top:255.70px;width:4.90px;height:4.30px;background:#1f78b4;"></div>
<div style="left:34.40px;top:255.70px;width:2.70px;height:4.30px;background:#a6cee3;"></div>
<div style="left:28.40px;top:261.41px;width:0.60px;height:4.30px;background:#33a02c;"></div>
<div style="left:28.40px;top:267.12px;width:3.20px;height:4.30px;background:#ffff99;"></div>
<div style="left:31.60px;top:267.12px;width:1.10px;height:4.30px;background:#ff7f00;"></div>
<div style="left:32.70px;top:267.12px;width:20.20px;height:4.30px;background:#1f78b4;"></div>
<div style="left:52.90px;top:267.12px;width:2.70px;height:4.30px;background:#a6cee3;"></div>
<div style="left:28.40px;top:272.83px;width:1.10px;height:4.30px;background:#ffff99;"></div>
<div style="left:29.50px;top:272.83px;width:3.20px;height:4.30px;background:#1f78b4;"></div>
<div style="left:32.70px;top:272.83px;width:1.10px;height:4.30px;background:#a6cee3;"></div>
<div style="left:28.40px;top:278.54px;width:6.00px;height:4.30px;background:#ffff99;"></div>
<div style="left:34.40px;top:278.54px;width:16.30px;height:4.30px;background:#1f78b4;"></div>
<div style="left:28.40px;top:284.25px;width:1.60px;height:4.30px;background:#ffff99;"></div>
<div style="left:30.00px;top:284.25px;width:2.70px;height:4.30px;background:#1f78b4;"></div>
<div style="left:28.40px;top:289.95px;width:3.80px;height:4.30px;background:#ffff99;"></div>
<div style="left:32.20px;top:289.95px;width:7.60px;height:4.30px;background:#33a02c;"></div>
<div style="left:39.80px;top:289.95px;width:17.50px;height:4.30px;background:#1f78b4;"></div>
<div style="left:57.30px;top:289.95px;width:2.70px;height:4.30px;background:#a6cee3;"></div>
<div style="left:28.40px;top:295.66px;width:0.60px;height:4.30px;background:#1f78b4;"></div>
<div style="left:28.40px;top:301.37px;width:7.60px;height:4.30px;background:#ffff99;"></div>
<div style="left:36.00px;top:301.37px;width:3.80px;height:4.30px;background:#fb9a99;"></div>
<div style="left:39.80px;top:301.37px;width:15.80px;height:4.30px;background:#b2df8a;"></div>
<div style="left:55.60px;top:301.37px;width:9.30px;height:4.30px;background:#1f78b4;"></div>
<div style="left:64.90px;top:301.37px;width:50.00px;height:4.30px;background:#a6cee3;"></div>
<div style="left:28.40px;top:307.08px;width:18.50px;height:4.30px;background:#ffff99;"></div>
<div style="left:46.90px;top:307.08px;width:35.30px;height:4.30px;background:#1f78b4;"></div>
<div style="left:82.20px;top:307.08px;width:48.50px;height:4.30px;background:#a6cee3;"></div>
<div style="left:28.40px;top:312.79px;width:11.40px;height:4.30px;background:#ffff99;"></div>
<div style="left:39.80px;top:312.79px;width:2.20px;height:4.30px;background:#33a02c;"></div>
<div style="left:42.00px;top:312.79px;width:3.80px;height:4.30px;background:#b2df8a;"></div>
<div style="left:45.80px;top:312.79px;width:4.90px;height:4.30px;background:#1f78b4;"></div>
<div style="left:50.70px;top:312.79px;width:50.00px;height:4.30px;background:#a6cee3;"></div>
<div style="left:28.40px;top:318.50px;width:16.90px;height:4.30px;background:#ffff99;"></div>
<div style="left:28.40px;top:324.21px;width:9.80px;height:4.30px;background:#a6cee3;"></div>
<div style="left:28.40px;top:329.92px;width:9.80px;height:4.30px;background:#ffff99;"></div>
<div style="left:38.20px;top:329.92px;width:31.10px;height:4.30px;background:#fdbf6f;"></div>
<div style="left:69.30px;top:329.92px;width:50.70px;height:4.30px;background:#fb9a99;"></div>
<div style="left:120.00px;top:329.92px;width:1.80px;height:4.30px;background:#ff7f00;"></div>
<div style="left:121.80px;top:329.92px;width:1.40px;height:4.30px;background:#b2df8a;"></div>
<div style="left:123.20px;top:329.92px;width:0.60px;height:4.30px;background:#33a02c;"></div>
<div style="left:123.80px;top:329.92px;width:1.20px;height:4.30px;background:#1f78b4;"></div>
<div style="left:125.00px;top:329.92px;width:14.50px;height:4.30px;background:#a6cee3;"></div>
<div style="left:28.40px;top:335.63px;width:1.10px;height:4.30px;background:#b2df8a;"></div>
<div style="left:29.50px;top:335.63px;width:3.20px;height:4.30px;background:#1f78b4;"></div>
<div style="left:32.70px;top:335.63px;width:0.60px;height:4.30px;background:#a6cee3;"></div>
<span class="t ax" style="left:20.80px;top:347.23px;width:20px;">0%</span>
<span class="t ax" style="left:49.80px;top:347.23px;width:20px;">25%</span>
<span class="t ax" style="left:81.00px;top:347.23px;width:20px;">50%</span>
<span class="t ax" style="left:108.80px;top:347.23px;width:20px;">75%</span>
<span class="t ax tt" style="left:52.00px;top:356.25px;width:60px;">% composition</span>
<span class="t lab" style="left:1.00px;top:4.60px;font-size:10.3px;-webkit-text-stroke:0.15px #222;">A.</span>
<div style="left:200.60px;top:6.35px;width:135.70px;height:0.60px;background:#f6f6f6;"></div>
<div style="left:200.60px;top:12.06px;width:135.70px;height:0.60px;background:#f6f6f6;"></div>
<div style="left:200.60px;top:17.77px;width:135.70px;height:0.60px;background:#f6f6f6;"></div>
<div style="left:200.60px;top:23.48px;width:135.70px;height:0.60px;background:#f6f6f6;"></div>
<div style="left:200.60px;top:29.19px;width:135.70px;height:0.60px;background:#f6f6f6;"></div>
<div style="left:200.60px;top:34.90px;width:135.70px;height:0.60px;background:#f6f6f6;"></div>
<div style="left:200.60px;top:40.61px;width:135.70px;height:0.60px;background:#f6f6f6;"></div>
<div style="left:200.60px;top:46.32px;width:135.70px;height:0.60px;background:#f6f6f6;"></div>
<div style="left:200.60px;top:52.03px;width:135.70px;height:0.60px;background:#f6f6f6;"></div>
<div style="left:200.60px;top:57.74px;width:135.70px;height:0.60px;background:#f6f6f6;"></div>
<div style="left:200.60px;top:63.44px;width:135.70px;height:0.60px;background:#f6f6f6;"></div>
<div style="left:200.60px;top:69.15px;width:135.70px;height:0.60px;background:#f6f6f6;"></div>
<div style="left:200.60px;top:74.86px;width:135.70px;height:0.60px;background:#f6f6f6;"></div>
<div style="left:200.60px;top:80.57px;width:135.70px;height:0.60px;background:#f6f6f6;"></div>
<div style="left:200.60px;top:86.28px;width:135.70px;height:0.60px;background:#f6f6f6;"></div>
<div style="left:200.60px;top:91.99px;width:135.70px;height:0.60px;background:#f6f6f6;"></div>
<div style="left:200.60px;top:97.70px;width:135.70px;height:0.60px;background:#f6f6f6;"></div>
<div style="left:200.60px;top:103.41px;width:135.70px;height:0.60px;background:#f6f6f6;"></div>
<div style="left:200.60px;top:109.12px;width:135.70px;height:0.60px;background:#f6f6f6;"></div>
<div style="left:200.60px;top:114.83px;width:135.70px;height:0.60px;background:#f6f6f6;"></div>
<div style="left:200.60px;top:120.53px;width:135.70px;height:0.60px;background:#f6f6f6;"></div>
<div style="left:200.60px;top:126.24px;width:135.70px;height:0.60px;background:#f6f6f6;"></div>
<div style="left:200.60px;top:131.95px;width:135.70px;height:0.60px;background:#f6f6f6;"></div>
<div style="left:200.60px;top:137.66px;width:135.70px;height:0.60px;background:#f6f6f6;"></div>
<div style="left:200.60px;top:143.37px;width:135.70px;height:0.60px;background:#f6f6f6;"></div>
<div style="left:200.60px;top:149.08px;width:135.70px;height:0.60px;background:#f6f6f6;"></div>
<div style="left:200.60px;top:154.79px;width:135.70px;height:0.60px;background:#f6f6f6;"></div>
<div style="left:200.60px;top:160.50px;width:135.70px;height:0.60px;background:#f6f6f6;"></div>
<div style="left:200.60px;top:166.21px;width:135.70px;height:0.60px;background:#f6f6f6;"></div>
<div style="left:200.60px;top:171.92px;width:135.70px;height:0.60px;background:#f6f6f6;"></div>
<div style="left:200.60px;top:177.62px;width:135.70px;height:0.60px;background:#f6f6f6;"></div>
<div style="left:200.60px;top:183.33px;width:135.70px;height:0.60px;background:#f6f6f6;"></div>
<div style="left:200.60px;top:189.04px;width:135.70px;height:0.60px;background:#f6f6f6;"></div>
<div style="left:200.60px;top:194.75px;width:135.70px;height:0.60px;background:#f6f6f6;"></div>
<div style="left:200.60px;top:200.46px;width:135.70px;height:0.60px;background:#f6f6f6;"></div>
<div style="left:200.60px;top:206.17px;width:135.70px;height:0.60px;background:#f6f6f6;"></div>
<div style="left:200.60px;top:211.88px;width:135.70px;height:0.60px;background:#f6f6f6;"></div>
<div style="left:200.60px;top:217.59px;width:135.70px;height:0.60px;background:#f6f6f6;"></div>
<div style="left:200.60px;top:223.30px;width:135.70px;height:0.60px;background:#f6f6f6;"></div>
<div style="left:200.60px;top:229.01px;width:135.70px;height:0.60px;background:#f6f6f6;"></div>
<div style="left:200.60px;top:234.71px;width:135.70px;height:0.60px;background:#f6f6f6;"></div>
<div style="left:200.60px;top:240.42px;width:135.70px;height:0.60px;background:#f6f6f6;"></div>
<div style="left:200.60px;top:246.13px;width:135.70px;height:0.60px;background:#f6f6f6;"></div>
<div style="left:200.60px;top:251.84px;width:135.70px;height:0.60px;background:#f6f6f6;"></div>
<div style="left:200.60px;top:257.55px;width:135.70px;height:0.60px;background:#f6f6f6;"></div>
<div style="left:200.60px;top:263.26px;width:135.70px;height:0.60px;background:#f6f6f6;"></div>
<div style="left:200.60px;top:268.97px;width:135.70px;height:0.60px;background:#f6f6f6;"></div>
<div style="left:200.60px;top:274.68px;width:135.70px;height:0.60px;background:#f6f6f6;"></div>
<div style="left:200.60px;top:280.39px;width:135.70px;height:0.60px;background:#f6f6f6;"></div>
<div style="left:200.60px;top:286.10px;width:135.70px;height:0.60px;background:#f6f6f6;"></div>
<div style="left:200.60px;top:291.80px;width:135.70px;height:0.60px;background:#f6f6f6;"></div>
<div style="left:200.60px;top:297.51px;width:135.70px;height:0.60px;background:#f6f6f6;"></div>
<div style="left:200.60px;top:303.22px;width:135.70px;height:0.60px;background:#f6f6f6;"></div>
<div style="left:200.60px;top:308.93px;width:135.70px;height:0.60px;background:#f6f6f6;"></div>
<div style="left:200.60px;top:314.64px;width:135.70px;height:0.60px;background:#f6f6f6;"></div>
<div style="left:200.60px;top:320.35px;width:135.70px;height:0.60px;background:#f6f6f6;"></div>
<div style="left:200.60px;top:326.06px;width:135.70px;height:0.60px;background:#f6f6f6;"></div>
<div style="left:200.60px;top:331.77px;width:135.70px;height:0.60px;background:#f6f6f6;"></div>
<div style="left:200.60px;top:337.48px;width:135.70px;height:0.60px;background:#f6f6f6;"></div>
<div style="left:217.65px;top:3.50px;width:0.60px;height:338.70px;background:#fbfbfb;"></div>
<div style="left:234.70px;top:3.50px;width:0.60px;height:338.70px;background:#f0f0f0;"></div>
<div style="left:251.75px;top:3.50px;width:0.60px;height:338.70px;background:#fbfbfb;"></div>
<div style="left:268.80px;top:3.50px;width:0.60px;height:338.70px;background:#f0f0f0;"></div>
<div style="left:285.85px;top:3.50px;width:0.60px;height:338.70px;background:#fbfbfb;"></div>
<div style="left:302.90px;top:3.50px;width:0.60px;height:338.70px;background:#f0f0f0;"></div>
<div style="left:319.95px;top:3.50px;width:0.60px;height:338.70px;background:#fbfbfb;"></div>
<div style="left:194.20px;top:3.50px;width:142.10px;height:0.80px;background:#d9d9d9;"></div>
<div style="left:336.30px;top:3.50px;width:0.80px;height:338.70px;background:#d9d9d9;"></div>
<div style="left:194.20px;top:342.20px;width:142.90px;height:0.80px;background:#d9d9d9;"></div>
<div style="left:200.50px;top:3.50px;width:0.60px;height:338.70px;background:#e8e8e8;"></div>
<div style="left:200.60px;top:342.20px;width:0.70px;height:1.60px;background:#bfbfbf;"></div>
<div style="left:234.90px;top:342.20px;width:0.70px;height:1.60px;background:#bfbfbf;"></div>
<div style="left:269.00px;top:342.20px;width:0.70px;height:1.60px;background:#bfbfbf;"></div>
<div style="left:303.10px;top:342.20px;width:0.70px;height:1.60px;background:#bfbfbf;"></div>
<div style="left:188.00px;top:5.50px;width:7.00px;height:55.80px;background:#7030a0;"></div>
<div style="left:188.00px;top:61.30px;width:7.00px;height:50.70px;background:#00b0f0;"></div>
<div style="left:188.00px;top:112.00px;width:7.00px;height:114.00px;background:#92d050;"></div>
<div style="left:188.00px;top:226.00px;width:7.00px;height:115.30px;background:#ff0000;"></div>
<div style="left:201.10px;top:10.21px;width:0.50px;height:4.30px;background:#c8d2d6;"></div>
<div style="left:201.10px;top:15.92px;width:0.90px;height:4.30px;background:#e31a1c;"></div>
<div style="left:202.00px;top:15.92px;width:0.60px;height:4.30px;background:#33a02c;"></div>
<div style="left:202.60px;top:15.92px;width:22.40px;height:4.30px;background:#a6cee3;"></div>
<div style="left:201.10px;top:21.63px;width:7.10px;height:4.30px;background:#a6cee3;"></div>
<div style="left:201.10px;top:33.05px;width:0.50px;height:4.30px;background:#c8d2d6;"></div>
<div style="left:201.10px;top:38.76px;width:2.20px;height:4.30px;background:#1f78b4;"></div>
<div style="left:203.30px;top:38.76px;width:0.50px;height:4.30px;background:#a6cee3;"></div>
<div style="left:201.10px;top:55.89px;width:5.40px;height:4.30px;background:#a6cee3;"></div>
<div style="left:201.10px;top:90.14px;width:0.50px;height:4.30px;background:#c8d2d6;"></div>
<div style="left:201.10px;top:95.85px;width:0.50px;height:4.30px;background:#c8d2d6;"></div>
<div style="left:201.10px;top:101.56px;width:2.70px;height:4.30px;background:#a6cee3;"></div>
<div style="left:201.10px;top:107.27px;width:4.40px;height:4.30px;background:#a6cee3;"></div>
<div style="left:201.10px;top:124.39px;width:2.70px;height:4.30px;background:#a6cee3;"></div>
<div style="left:201.10px;top:130.10px;width:0.50px;height:4.30px;background:#fb9a99;"></div>
<div style="left:201.10px;top:135.81px;width:3.30px;height:4.30px;background:#a6cee3;"></div>
<div style="left:201.10px;top:147.23px;width:1.10px;height:4.30px;background:#1f78b4;"></div>
<div style="left:201.10px;top:164.36px;width:1.60px;height:4.30px;background:#b2df8a;"></div>
<div style="left:201.10px;top:181.48px;width:0.50px;height:4.30px;background:#c8d2d6;"></div>
<div style="left:201.10px;top:192.90px;width:2.70px;height:4.30px;background:#b2df8a;"></div>
<div style="left:203.80px;top:192.90px;width:1.10px;height:4.30px;background:#33a02c;"></div>
<div style="left:204.90px;top:192.90px;width:111.10px;height:4.30px;background:#a6cee3;"></div>
<div style="left:201.10px;top:198.61px;width:3.30px;height:4.30px;background:#fb9a99;"></div>
<div style="left:204.40px;top:198.61px;width:4.30px;height:4.30px;background:#a6cee3;"></div>
<div style="left:201.10px;top:204.32px;width:2.70px;height:4.30px;background:#a6cee3;"></div>
<div style="left:201.10px;top:210.03px;width:9.30px;height:4.30px;background:#a6cee3;"></div>
<div style="left:201.10px;top:215.74px;width:12.50px;height:4.30px;background:#a6cee3;"></div>
<div style="left:201.10px;top:221.45px;width:6.40px;height:4.30px;background:#a6cee3;"></div>
<div style="left:201.10px;top:227.16px;width:0.50px;height:4.30px;background:#c8d2d6;"></div>
<div style="left:201.10px;top:232.86px;width:2.00px;height:4.30px;background:#b2df8a;"></div>
<div style="left:203.10px;top:232.86px;width:15.80px;height:4.30px;background:#a6cee3;"></div>
<div style="left:201.10px;top:238.57px;width:3.10px;height:4.30px;background:#e31a1c;"></div>
<div style="left:204.20px;top:238.57px;width:1.60px;height:4.30px;background:#33a02c;"></div>
<div style="left:205.80px;top:238.57px;width:113.30px;height:4.30px;background:#a6cee3;"></div>
<div style="left:201.10px;top:244.28px;width:1.10px;height:4.30px;background:#e31a1c;"></div>
<div style="left:202.20px;top:244.28px;width:31.60px;height:4.30px;background:#a6cee3;"></div>
<div style="left:201.10px;top:255.70px;width:3.80px;height:4.30px;background:#a6cee3;"></div>
<div style="left:201.10px;top:261.41px;width:2.70px;height:4.30px;background:#ff7f00;"></div>
<div style="left:203.80px;top:261.41px;width:1.70px;height:4.30px;background:#ffff99;"></div>
<div style="left:205.50px;top:261.41px;width:41.40px;height:4.30px;background:#1f78b4;"></div>
<div style="left:246.90px;top:261.41px;width:80.40px;height:4.30px;background:#a6cee3;"></div>
<div style="left:201.10px;top:267.12px;width:1.10px;height:4.30px;background:#6a3d9a;"></div>
<div style="left:201.10px;top:272.83px;width:2.70px;height:4.30px;background:#a6cee3;"></div>
<div style="left:201.10px;top:278.54px;width:1.60px;height:4.30px;background:#ff7f00;"></div>
<div style="left:202.70px;top:278.54px;width:49.70px;height:4.30px;background:#a6cee3;"></div>
<div style="left:201.10px;top:284.25px;width:8.20px;height:4.30px;background:#a6cee3;"></div>
<div style="left:201.10px;top:289.95px;width:21.30px;height:4.30px;background:#a6cee3;"></div>
<div style="left:201.10px;top:301.37px;width:0.50px;height:4.30px;background:#c8d2d6;"></div>
<div style="left:201.10px;top:307.08px;width:0.50px;height:4.30px;background:#c8d2d6;"></div>
<div style="left:201.10px;top:318.50px;width:10.90px;height:4.30px;background:#a6cee3;"></div>
<span class="t ax" style="left:192.70px;top:347.63px;width:20px;">0%</span>
<span class="t ax" style="left:226.30px;top:347.63px;width:20px;">25%</span>
<span class="t ax" style="left:260.40px;top:347.63px;width:20px;">50%</span>
<span class="t ax" style="left:293.80px;top:347.63px;width:20px;">75%</span>
<span class="t ax tt" style="left:236.20px;top:356.36px;width:60px;">% composition</span>
<span class="t lab" style="left:171.00px;top:5.10px;font-size:10.3px;-webkit-text-stroke:0.15px #222;">B.</span>
<div style="left:396.80px;top:7.95px;width:124.10px;height:0.60px;background:#f6f6f6;"></div>
<div style="left:396.80px;top:13.66px;width:124.10px;height:0.60px;background:#f6f6f6;"></div>
<div style="left:396.80px;top:19.37px;width:124.10px;height:0.60px;background:#f6f6f6;"></div>
<div style="left:396.80px;top:25.08px;width:124.10px;height:0.60px;background:#f6f6f6;"></div>
<div style="left:396.80px;top:30.79px;width:124.10px;height:0.60px;background:#f6f6f6;"></div>
<div style="left:396.80px;top:36.50px;width:124.10px;height:0.60px;background:#f6f6f6;"></div>
<div style="left:396.80px;top:42.21px;width:124.10px;height:0.60px;background:#f6f6f6;"></div>
<div style="left:396.80px;top:47.92px;width:124.10px;height:0.60px;background:#f6f6f6;"></div>
<div style="left:396.80px;top:53.63px;width:124.10px;height:0.60px;background:#f6f6f6;"></div>
<div style="left:396.80px;top:59.34px;width:124.10px;height:0.60px;background:#f6f6f6;"></div>
<div style="left:396.80px;top:65.04px;width:124.10px;height:0.60px;background:#f6f6f6;"></div>
<div style="left:396.80px;top:70.75px;width:124.10px;height:0.60px;background:#f6f6f6;"></div>
<div style="left:396.80px;top:76.46px;width:124.10px;height:0.60px;background:#f6f6f6;"></div>
<div style="left:396.80px;top:82.17px;width:124.10px;height:0.60px;background:#f6f6f6;"></div>
<div style="left:396.80px;top:87.88px;width:124.10px;height:0.60px;background:#f6f6f6;"></div>
<div style="left:396.80px;top:93.59px;width:124.10px;height:0.60px;background:#f6f6f6;"></div>
<div style="left:396.80px;top:99.30px;width:124.10px;height:0.60px;background:#f6f6f6;"></div>
<div style="left:396.80px;top:105.01px;width:124.10px;height:0.60px;background:#f6f6f6;"></div>
<div style="left:396.80px;top:110.72px;width:124.10px;height:0.60px;background:#f6f6f6;"></div>
<div style="left:396.80px;top:116.43px;width:124.10px;height:0.60px;background:#f6f6f6;"></div>
<div style="left:396.80px;top:122.13px;width:124.10px;height:0.60px;background:#f6f6f6;"></div>
<div style="left:396.80px;top:127.84px;width:124.10px;height:0.60px;background:#f6f6f6;"></div>
<div style="left:396.80px;top:133.55px;width:124.10px;height:0.60px;background:#f6f6f6;"></div>
<div style="left:396.80px;top:139.26px;width:124.10px;height:0.60px;background:#f6f6f6;"></div>
<div style="left:396.80px;top:144.97px;width:124.10px;height:0.60px;background:#f6f6f6;"></div>
<div style="left:396.80px;top:150.68px;width:124.10px;height:0.60px;background:#f6f6f6;"></div>
<div style="left:396.80px;top:156.39px;width:124.10px;height:0.60px;background:#f6f6f6;"></div>
<div style="left:396.80px;top:162.10px;width:124.10px;height:0.60px;background:#f6f6f6;"></div>
<div style="left:396.80px;top:167.81px;width:124.10px;height:0.60px;background:#f6f6f6;"></div>
<div style="left:396.80px;top:173.52px;width:124.10px;height:0.60px;background:#f6f6f6;"></div>
<div style="left:396.80px;top:179.22px;width:124.10px;height:0.60px;background:#f6f6f6;"></div>
<div style="left:396.80px;top:184.93px;width:124.10px;height:0.60px;background:#f6f6f6;"></div>
<div style="left:396.80px;top:190.64px;width:124.10px;height:0.60px;background:#f6f6f6;"></div>
<div style="left:396.80px;top:196.35px;width:124.10px;height:0.60px;background:#f6f6f6;"></div>
<div style="left:396.80px;top:202.06px;width:124.10px;height:0.60px;background:#f6f6f6;"></div>
<div style="left:396.80px;top:207.77px;width:124.10px;height:0.60px;background:#f6f6f6;"></div>
<div style="left:396.80px;top:213.48px;width:124.10px;height:0.60px;background:#f6f6f6;"></div>
<div style="left:396.80px;top:219.19px;width:124.10px;height:0.60px;background:#f6f6f6;"></div>
<div style="left:396.80px;top:224.90px;width:124.10px;height:0.60px;background:#f6f6f6;"></div>
<div style="left:396.80px;top:230.61px;width:124.10px;height:0.60px;background:#f6f6f6;"></div>
<div style="left:396.80px;top:236.31px;width:124.10px;height:0.60px;background:#f6f6f6;"></div>
<div style="left:396.80px;top:242.02px;width:124.10px;height:0.60px;background:#f6f6f6;"></div>
<div style="left:396.80px;top:247.73px;width:124.10px;height:0.60px;background:#f6f6f6;"></div>
<div style="left:396.80px;top:253.44px;width:124.10px;height:0.60px;background:#f6f6f6;"></div>
<div style="left:396.80px;top:259.15px;width:124.10px;height:0.60px;background:#f6f6f6;"></div>
<div style="left:396.80px;top:264.86px;width:124.10px;height:0.60px;background:#f6f6f6;"></div>
<div style="left:396.80px;top:270.57px;width:124.10px;height:0.60px;background:#f6f6f6;"></div>
<div style="left:396.80px;top:276.28px;width:124.10px;height:0.60px;background:#f6f6f6;"></div>
<div style="left:396.80px;top:281.99px;width:124.10px;height:0.60px;background:#f6f6f6;"></div>
<div style="left:396.80px;top:287.70px;width:124.10px;height:0.60px;background:#f6f6f6;"></div>
<div style="left:396.80px;top:293.40px;width:124.10px;height:0.60px;background:#f6f6f6;"></div>
<div style="left:396.80px;top:299.11px;width:124.10px;height:0.60px;background:#f6f6f6;"></div>
<div style="left:396.80px;top:304.82px;width:124.10px;height:0.60px;background:#f6f6f6;"></div>
<div style="left:396.80px;top:310.53px;width:124.10px;height:0.60px;background:#f6f6f6;"></div>
<div style="left:396.80px;top:316.24px;width:124.10px;height:0.60px;background:#f6f6f6;"></div>
<div style="left:396.80px;top:321.95px;width:124.10px;height:0.60px;background:#f6f6f6;"></div>
<div style="left:396.80px;top:327.66px;width:124.10px;height:0.60px;background:#f6f6f6;"></div>
<div style="left:396.80px;top:333.37px;width:124.10px;height:0.60px;background:#f6f6f6;"></div>
<div style="left:396.80px;top:339.08px;width:124.10px;height:0.60px;background:#f6f6f6;"></div>
<div style="left:412.95px;top:5.30px;width:0.60px;height:337.90px;background:#fbfbfb;"></div>
<div style="left:428.30px;top:5.30px;width:0.60px;height:337.90px;background:#f0f0f0;"></div>
<div style="left:443.65px;top:5.30px;width:0.60px;height:337.90px;background:#fbfbfb;"></div>
<div style="left:459.00px;top:5.30px;width:0.60px;height:337.90px;background:#f0f0f0;"></div>
<div style="left:474.35px;top:5.30px;width:0.60px;height:337.90px;background:#fbfbfb;"></div>
<div style="left:489.70px;top:5.30px;width:0.60px;height:337.90px;background:#f0f0f0;"></div>
<div style="left:505.05px;top:5.30px;width:0.60px;height:337.90px;background:#fbfbfb;"></div>
<div style="left:390.90px;top:5.30px;width:130.00px;height:0.80px;background:#d9d9d9;"></div>
<div style="left:520.90px;top:5.30px;width:0.80px;height:337.90px;background:#d9d9d9;"></div>
<div style="left:390.90px;top:343.20px;width:130.80px;height:0.80px;background:#d9d9d9;"></div>
<div style="left:396.70px;top:5.30px;width:0.60px;height:337.90px;background:#e8e8e8;"></div>
<div style="left:397.60px;top:343.20px;width:0.70px;height:1.60px;background:#bfbfbf;"></div>
<div style="left:428.30px;top:343.20px;width:0.70px;height:1.60px;background:#bfbfbf;"></div>
<div style="left:459.00px;top:343.20px;width:0.70px;height:1.60px;background:#bfbfbf;"></div>
<div style="left:489.70px;top:343.20px;width:0.70px;height:1.60px;background:#bfbfbf;"></div>
<div style="left:520.40px;top:343.20px;width:0.70px;height:1.60px;background:#bfbfbf;"></div>
<div style="left:383.80px;top:6.20px;width:7.00px;height:56.20px;background:#7030a0;"></div>
<div style="left:383.80px;top:62.40px;width:7.00px;height:51.10px;background:#00b0f0;"></div>
<div style="left:383.80px;top:113.50px;width:7.00px;height:113.50px;background:#92d050;"></div>
<div style="left:383.80px;top:227.00px;width:7.00px;height:115.60px;background:#ff0000;"></div>
<div style="left:397.30px;top:6.10px;width:2.00px;height:4.30px;background:#1f78b4;"></div>
<div style="left:399.30px;top:6.10px;width:1.10px;height:4.30px;background:#a6cee3;"></div>
<div style="left:397.30px;top:11.81px;width:0.70px;height:4.30px;background:#c8d2d6;"></div>
<div style="left:397.30px;top:17.52px;width:0.70px;height:4.30px;background:#c8d2d6;"></div>
<div style="left:397.30px;top:23.23px;width:2.00px;height:4.30px;background:#ffff99;"></div>
<div style="left:397.30px;top:28.94px;width:0.70px;height:4.30px;background:#c8d2d6;"></div>
<div style="left:397.30px;top:34.65px;width:0.90px;height:4.30px;background:#6a3d9a;"></div>
<div style="left:398.20px;top:34.65px;width:6.50px;height:4.30px;background:#a6cee3;"></div>
<div style="left:397.30px;top:40.36px;width:2.50px;height:4.30px;background:#ffff99;"></div>
<div style="left:397.30px;top:46.07px;width:0.70px;height:4.30px;background:#cab2d6;"></div>
<div style="left:397.30px;top:51.78px;width:2.50px;height:4.30px;background:#c8d2d6;"></div>
<div style="left:397.30px;top:63.19px;width:5.80px;height:4.30px;background:#ff7f00;"></div>
<div style="left:403.10px;top:63.19px;width:8.00px;height:4.30px;background:#33a02c;"></div>
<div style="left:411.10px;top:63.19px;width:8.00px;height:4.30px;background:#b2df8a;"></div>
<div style="left:419.10px;top:63.19px;width:3.60px;height:4.30px;background:#1f78b4;"></div>
<div style="left:422.70px;top:63.19px;width:10.90px;height:4.30px;background:#a6cee3;"></div>
<div style="left:397.30px;top:74.61px;width:0.70px;height:4.30px;background:#fb9a99;"></div>
<div style="left:397.30px;top:86.03px;width:2.90px;height:4.30px;background:#a6cee3;"></div>
<div style="left:397.30px;top:91.74px;width:10.20px;height:4.30px;background:#ffff99;"></div>
<div style="left:407.50px;top:91.74px;width:2.10px;height:4.30px;background:#cab2d6;"></div>
<div style="left:409.60px;top:91.74px;width:13.90px;height:4.30px;background:#fb9a99;"></div>
<div style="left:423.50px;top:91.74px;width:10.10px;height:4.30px;background:#b2df8a;"></div>
<div style="left:433.60px;top:91.74px;width:2.90px;height:4.30px;background:#1f78b4;"></div>
<div style="left:436.50px;top:91.74px;width:79.50px;height:4.30px;background:#a6cee3;"></div>
<div style="left:397.30px;top:97.45px;width:6.50px;height:4.30px;background:#ffff99;"></div>
<div style="left:403.80px;top:97.45px;width:1.50px;height:4.30px;background:#e31a1c;"></div>
<div style="left:405.30px;top:97.45px;width:10.20px;height:4.30px;background:#b2df8a;"></div>
<div style="left:415.50px;top:97.45px;width:4.30px;height:4.30px;background:#1f78b4;"></div>
<div style="left:419.80px;top:97.45px;width:77.30px;height:4.30px;background:#a6cee3;"></div>
<div style="left:397.30px;top:103.16px;width:3.60px;height:4.30px;background:#ffff99;"></div>
<div style="left:400.90px;top:103.16px;width:1.50px;height:4.30px;background:#e31a1c;"></div>
<div style="left:402.40px;top:103.16px;width:19.60px;height:4.30px;background:#b2df8a;"></div>
<div style="left:422.00px;top:103.16px;width:3.60px;height:4.30px;background:#1f78b4;"></div>
<div style="left:425.60px;top:103.16px;width:67.90px;height:4.30px;background:#a6cee3;"></div>
<div style="left:397.30px;top:108.87px;width:2.20px;height:4.30px;background:#e31a1c;"></div>
<div style="left:399.50px;top:108.87px;width:2.90px;height:4.30px;background:#fb9a99;"></div>
<div style="left:402.40px;top:108.87px;width:12.30px;height:4.30px;background:#b2df8a;"></div>
<div style="left:414.70px;top:108.87px;width:8.80px;height:4.30px;background:#1f78b4;"></div>
<div style="left:423.50px;top:108.87px;width:59.00px;height:4.30px;background:#a6cee3;"></div>
<div style="left:397.30px;top:114.58px;width:0.70px;height:4.30px;background:#c8d2d6;"></div>
<div style="left:397.30px;top:120.28px;width:0.70px;height:4.30px;background:#c8d2d6;"></div>
<div style="left:397.30px;top:125.99px;width:0.70px;height:4.30px;background:#c8d2d6;"></div>
<div style="left:397.30px;top:131.70px;width:0.70px;height:4.30px;background:#c8d2d6;"></div>
<div style="left:397.30px;top:137.41px;width:0.90px;height:4.30px;background:#ffff99;"></div>
<div style="left:398.20px;top:137.41px;width:2.20px;height:4.30px;background:#ff7f00;"></div>
<div style="left:400.40px;top:137.41px;width:1.10px;height:4.30px;background:#b2df8a;"></div>
<div style="left:401.50px;top:137.41px;width:3.80px;height:4.30px;background:#1f78b4;"></div>
<div style="left:405.30px;top:137.41px;width:0.50px;height:4.30px;background:#a6cee3;"></div>
<div style="left:397.30px;top:148.83px;width:0.70px;height:4.30px;background:#c8d2d6;"></div>
<div style="left:397.30px;top:160.25px;width:2.00px;height:4.30px;background:#b2df8a;"></div>
<div style="left:399.30px;top:160.25px;width:3.20px;height:4.30px;background:#1f78b4;"></div>
<div style="left:402.50px;top:160.25px;width:1.70px;height:4.30px;background:#a6cee3;"></div>
<div style="left:397.30px;top:171.67px;width:2.90px;height:4.30px;background:#1f78b4;"></div>
<div style="left:397.30px;top:177.37px;width:0.70px;height:4.30px;background:#1f78b4;"></div>
<div style="left:397.30px;top:183.08px;width:12.30px;height:4.30px;background:#ffff99;"></div>
<div style="left:409.60px;top:183.08px;width:5.10px;height:4.30px;background:#fdbf6f;"></div>
<div style="left:414.70px;top:183.08px;width:86.00px;height:4.30px;background:#1f78b4;"></div>
<div style="left:500.70px;top:183.08px;width:14.60px;height:4.30px;background:#a6cee3;"></div>
<div style="left:397.30px;top:188.79px;width:5.80px;height:4.30px;background:#ffff99;"></div>
<div style="left:403.10px;top:188.79px;width:1.40px;height:4.30px;background:#fdbf6f;"></div>
<div style="left:404.50px;top:188.79px;width:16.00px;height:4.30px;background:#b2df8a;"></div>
<div style="left:420.50px;top:188.79px;width:2.20px;height:4.30px;background:#a6cee3;"></div>
<div style="left:397.30px;top:194.50px;width:0.70px;height:4.30px;background:#c8d2d6;"></div>
<div style="left:397.30px;top:200.21px;width:3.60px;height:4.30px;background:#1f78b4;"></div>
<div style="left:400.90px;top:200.21px;width:3.30px;height:4.30px;background:#a6cee3;"></div>
<div style="left:397.30px;top:211.63px;width:14.00px;height:4.30px;background:#1f78b4;"></div>
<div style="left:397.30px;top:217.34px;width:39.60px;height:4.30px;background:#1f78b4;"></div>
<div style="left:397.30px;top:228.76px;width:1.40px;height:4.30px;background:#fdbf6f;"></div>
<div style="left:398.70px;top:228.76px;width:3.30px;height:4.30px;background:#1f78b4;"></div>
<div style="left:402.00px;top:228.76px;width:12.00px;height:4.30px;background:#a6cee3;"></div>
<div style="left:397.30px;top:234.46px;width:3.60px;height:4.30px;background:#b2df8a;"></div>
<div style="left:400.90px;top:234.46px;width:1.60px;height:4.30px;background:#1f78b4;"></div>
<div style="left:402.50px;top:234.46px;width:3.30px;height:4.30px;background:#a6cee3;"></div>
<div style="left:397.30px;top:240.17px;width:2.00px;height:4.30px;background:#c8d2d6;"></div>
<div style="left:397.30px;top:257.30px;width:6.50px;height:4.30px;background:#6a3d9a;"></div>
<div style="left:403.80px;top:257.30px;width:2.90px;height:4.30px;background:#ff7f00;"></div>
<div style="left:406.70px;top:257.30px;width:5.10px;height:4.30px;background:#b2df8a;"></div>
<div style="left:411.80px;top:257.30px;width:10.90px;height:4.30px;background:#a6cee3;"></div>
<div style="left:397.30px;top:268.72px;width:3.60px;height:4.30px;background:#cab2d6;"></div>
<div style="left:400.90px;top:268.72px;width:3.60px;height:4.30px;background:#ff7f00;"></div>
<div style="left:404.50px;top:268.72px;width:2.20px;height:4.30px;background:#1f78b4;"></div>
<div style="left:406.70px;top:268.72px;width:24.80px;height:4.30px;background:#a6cee3;"></div>
<div style="left:397.30px;top:274.43px;width:2.90px;height:4.30px;background:#ffff99;"></div>
<div style="left:400.20px;top:274.43px;width:1.40px;height:4.30px;background:#6a3d9a;"></div>
<div style="left:401.60px;top:274.43px;width:5.10px;height:4.30px;background:#cab2d6;"></div>
<div style="left:406.70px;top:274.43px;width:2.20px;height:4.30px;background:#ff7f00;"></div>
<div style="left:408.90px;top:274.43px;width:5.80px;height:4.30px;background:#fb9a99;"></div>
<div style="left:414.70px;top:274.43px;width:12.40px;height:4.30px;background:#b2df8a;"></div>
<div style="left:427.10px;top:274.43px;width:2.90px;height:4.30px;background:#1f78b4;"></div>
<div style="left:430.00px;top:274.43px;width:40.50px;height:4.30px;background:#a6cee3;"></div>
<div style="left:397.30px;top:280.14px;width:2.90px;height:4.30px;background:#ffff99;"></div>
<div style="left:400.20px;top:280.14px;width:1.40px;height:4.30px;background:#6a3d9a;"></div>
<div style="left:401.60px;top:280.14px;width:1.40px;height:4.30px;background:#fb9a99;"></div>
<div style="left:403.00px;top:280.14px;width:3.00px;height:4.30px;background:#b2df8a;"></div>
<div style="left:406.00px;top:280.14px;width:8.70px;height:4.30px;background:#a6cee3;"></div>
<div style="left:397.30px;top:285.85px;width:4.30px;height:4.30px;background:#ffff99;"></div>
<div style="left:401.60px;top:285.85px;width:2.20px;height:4.30px;background:#fb9a99;"></div>
<div style="left:403.80px;top:285.85px;width:4.40px;height:4.30px;background:#1f78b4;"></div>
<div style="left:408.20px;top:285.85px;width:42.20px;height:4.30px;background:#a6cee3;"></div>
<div style="left:397.30px;top:291.55px;width:11.60px;height:4.30px;background:#1f78b4;"></div>
<div style="left:397.30px;top:297.26px;width:10.90px;height:4.30px;background:#e31a1c;"></div>
<div style="left:408.20px;top:297.26px;width:13.80px;height:4.30px;background:#b2df8a;"></div>
<div style="left:422.00px;top:297.26px;width:18.20px;height:4.30px;background:#a6cee3;"></div>
<div style="left:397.30px;top:308.68px;width:2.20px;height:4.30px;background:#1f78b4;"></div>
<div style="left:397.30px;top:314.39px;width:0.70px;height:4.30px;background:#c8d2d6;"></div>
<span class="t ax" style="left:390.60px;top:349.73px;width:20px;">0%</span>
<span class="t ax" style="left:420.00px;top:349.73px;width:20px;">10%</span>
<span class="t ax" style="left:450.60px;top:349.73px;width:20px;">20%</span>
<span class="t ax" style="left:481.20px;top:349.73px;width:20px;">30%</span>
<span class="t ax" style="left:511.00px;top:349.73px;width:20px;">40%</span>
<span class="t ax tt" style="left:426.50px;top:356.65px;width:60px;">% composition</span>
<span class="t lab" style="left:364.00px;top:4.40px;font-size:10.3px;-webkit-text-stroke:0.15px #222;">C.</span>
<span class="t cat" style="left:-30.10px;top:31.20px;">Underwear</span>
<span class="t cat" style="left:-30.10px;top:83.10px;">Onesies</span>
<span class="t cat" style="left:-30.10px;top:168.40px;">Socks</span>
<span class="t cat" style="left:-30.10px;top:276.00px;">T-shirts</span>
<div style="left:86.50px;top:12.50px;width:90.00px;height:90.00px;background:#ffffff;"></div>
<span class="t ltitle" style="left:88.70px;top:15.20px;">Strains</span>
<div style="left:88.90px;top:20.50px;width:6.70px;height:6.30px;background:#a6cee3;"></div>
<span class="t li liA" style="left:97.40px;top:21.15px;">seq3.Staphylococcus.epidermidis.hominis</span>
<div style="left:88.90px;top:27.91px;width:6.70px;height:6.30px;background:#1f78b4;"></div>
<span class="t li liA" style="left:97.40px;top:28.56px;">seq4.Staphylococcus.capitis.caprae.epidermidis</span>
<div style="left:88.90px;top:35.32px;width:6.70px;height:6.30px;background:#b2df8a;"></div>
<span class="t li liA" style="left:97.40px;top:35.97px;">seq5.Staphylococcus.pasteuri.warneri</span>
<div style="left:88.90px;top:42.73px;width:6.70px;height:6.30px;background:#33a02c;"></div>
<span class="t li liA" style="left:97.40px;top:43.38px;">seq7.Staphylococcus.capitis.caprae.epidermidis</span>
<div style="left:88.90px;top:50.14px;width:6.70px;height:6.30px;background:#fb9a99;"></div>
<span class="t li liA" style="left:97.40px;top:50.79px;">seq10.Staphylococcus.saprophyticus</span>
<div style="left:88.90px;top:57.55px;width:6.70px;height:6.30px;background:#e31a1c;"></div>
<span class="t li liA" style="left:97.40px;top:58.20px;">seq11.Staphylococcus.haemolyticus.petrasii</span>
<div style="left:88.90px;top:64.96px;width:6.70px;height:6.30px;background:#fdbf6f;"></div>
<span class="t li liA" style="left:97.40px;top:65.61px;">seq25.Staphylococcus.saprophyticus.xylosus</span>
<div style="left:88.90px;top:72.37px;width:6.70px;height:6.30px;background:#ff7f00;"></div>
<span class="t li liA" style="left:97.40px;top:73.02px;">seq30.Staphylococcus.lugdunensis</span>
<div style="left:88.90px;top:79.78px;width:6.70px;height:6.30px;background:#cab2d6;"></div>
<span class="t li liA" style="left:97.40px;top:80.43px;">seq36.Staphylococcus.haemolyticus</span>
<div style="left:88.90px;top:87.19px;width:6.70px;height:6.30px;background:#6a3d9a;"></div>
<span class="t li liA" style="left:97.40px;top:87.84px;">seq45.Staphylococcus.capitis.caprae.epidermidis</span>
<div style="left:88.90px;top:94.60px;width:6.70px;height:6.30px;background:#ffff99;"></div>
<span class="t li liA" style="left:97.40px;top:95.25px;">others</span>
<div style="left:251.50px;top:6.00px;width:105.00px;height:100.00px;background:#ffffff;"></div>
<span class="t ltitle" style="left:253.60px;top:14.10px;">Strains</span>
<div style="left:253.60px;top:19.30px;width:7.20px;height:6.60px;background:#a6cee3;"></div>
<span class="t li liB" style="left:262.40px;top:20.10px;">seq1.Propionibacterium.acnes</span>
<div style="left:253.60px;top:27.06px;width:7.20px;height:6.60px;background:#1f78b4;"></div>
<span class="t li liB" style="left:262.40px;top:27.86px;">seq16.Propionibacterium.acnes.humerusii</span>
<div style="left:253.60px;top:34.82px;width:7.20px;height:6.60px;background:#b2df8a;"></div>
<span class="t li liB" style="left:262.40px;top:35.62px;">seq139.Propionibacterium.granulosum</span>
<div style="left:253.60px;top:42.58px;width:7.20px;height:6.60px;background:#33a02c;"></div>
<span class="t li liB" style="left:262.40px;top:43.38px;">seq312.Propionibacterium.acnes</span>
<div style="left:253.60px;top:50.34px;width:7.20px;height:6.60px;background:#fb9a99;"></div>
<span class="t li liB" style="left:262.40px;top:51.14px;">seq365.Propionibacterium.avidum</span>
<div style="left:253.60px;top:58.10px;width:7.20px;height:6.60px;background:#e31a1c;"></div>
<span class="t li liB" style="left:262.40px;top:58.90px;">seq223.Propionibacterium.acnes</span>
<div style="left:253.60px;top:65.86px;width:7.20px;height:6.60px;background:#fdbf6f;"></div>
<span class="t li liB" style="left:262.40px;top:66.66px;">seq301.Propionibacterium.acnes</span>
<div style="left:253.60px;top:73.62px;width:7.20px;height:6.60px;background:#ff7f00;"></div>
<span class="t li liB" style="left:262.40px;top:74.42px;">seq572.Propionibacterium.acnes.humerusii</span>
<div style="left:253.60px;top:81.38px;width:7.20px;height:6.60px;background:#cab2d6;"></div>
<span class="t li liB" style="left:262.40px;top:82.18px;">seq918.Propionibacterium.acnes</span>
<div style="left:253.60px;top:89.14px;width:7.20px;height:6.60px;background:#6a3d9a;"></div>
<span class="t li liB" style="left:262.40px;top:89.94px;">seq1440.Propionibacterium.sp7795</span>
<div style="left:253.60px;top:96.90px;width:7.20px;height:6.60px;background:#ffff99;"></div>
<span class="t li liB" style="left:262.40px;top:97.70px;">others</span>
<div style="left:463.50px;top:0.00px;width:90.00px;height:88.00px;background:#ffffff;"></div>
<span class="t ltitle" style="left:466.40px;top:3.80px;">Strains</span>
<div style="left:466.40px;top:8.60px;width:6.60px;height:5.90px;background:#a6cee3;"></div>
<span class="t li liC" style="left:474.40px;top:9.05px;">seq8.Streptococcus.mitis.oralis.sanguinis</span>
<div style="left:466.40px;top:15.64px;width:6.60px;height:5.90px;background:#1f78b4;"></div>
<span class="t li liC" style="left:474.40px;top:16.09px;">seq9.Streptococcus.salivarius.thermophilus</span>
<div style="left:466.40px;top:22.68px;width:6.60px;height:5.90px;background:#b2df8a;"></div>
<span class="t li liC" style="left:474.40px;top:23.13px;">seq32.Streptococcus.salivarius.vestibularis</span>
<div style="left:466.40px;top:29.72px;width:6.60px;height:5.90px;background:#33a02c;"></div>
<span class="t li liC" style="left:474.40px;top:30.17px;">seq222.Streptococcus.equinus.infantarius.lutetiensis</span>
<div style="left:466.40px;top:36.76px;width:6.60px;height:5.90px;background:#fb9a99;"></div>
<span class="t li liC" style="left:474.40px;top:37.21px;">seq104.Streptococcus.sanguinis</span>
<div style="left:466.40px;top:43.80px;width:6.60px;height:5.90px;background:#e31a1c;"></div>
<span class="t li liC" style="left:474.40px;top:44.25px;">seq274.Streptococcus.parasanguinis</span>
<div style="left:466.40px;top:50.84px;width:6.60px;height:5.90px;background:#fdbf6f;"></div>
<span class="t li liC" style="left:474.40px;top:51.29px;">seq248.Streptococcus.oralis.parasanguinis</span>
<div style="left:466.40px;top:57.88px;width:6.60px;height:5.90px;background:#ff7f00;"></div>
<span class="t li liC" style="left:474.40px;top:58.33px;">seq244.Streptococcus.mitis.oralis.sanguinis</span>
<div style="left:466.40px;top:64.92px;width:6.60px;height:5.90px;background:#cab2d6;"></div>
<span class="t li liC" style="left:474.40px;top:65.37px;">seq177.Streptococcus.mitis.pneumoniae</span>
<div style="left:466.40px;top:71.96px;width:6.60px;height:5.90px;background:#6a3d9a;"></div>
<span class="t li liC" style="left:474.40px;top:72.41px;">seq305.Streptococcus.gordonii</span>
<div style="left:466.40px;top:79.00px;width:6.60px;height:5.90px;background:#ffff99;"></div>
<span class="t li liC" style="left:474.40px;top:79.45px;">others</span>
</div></body></html>
